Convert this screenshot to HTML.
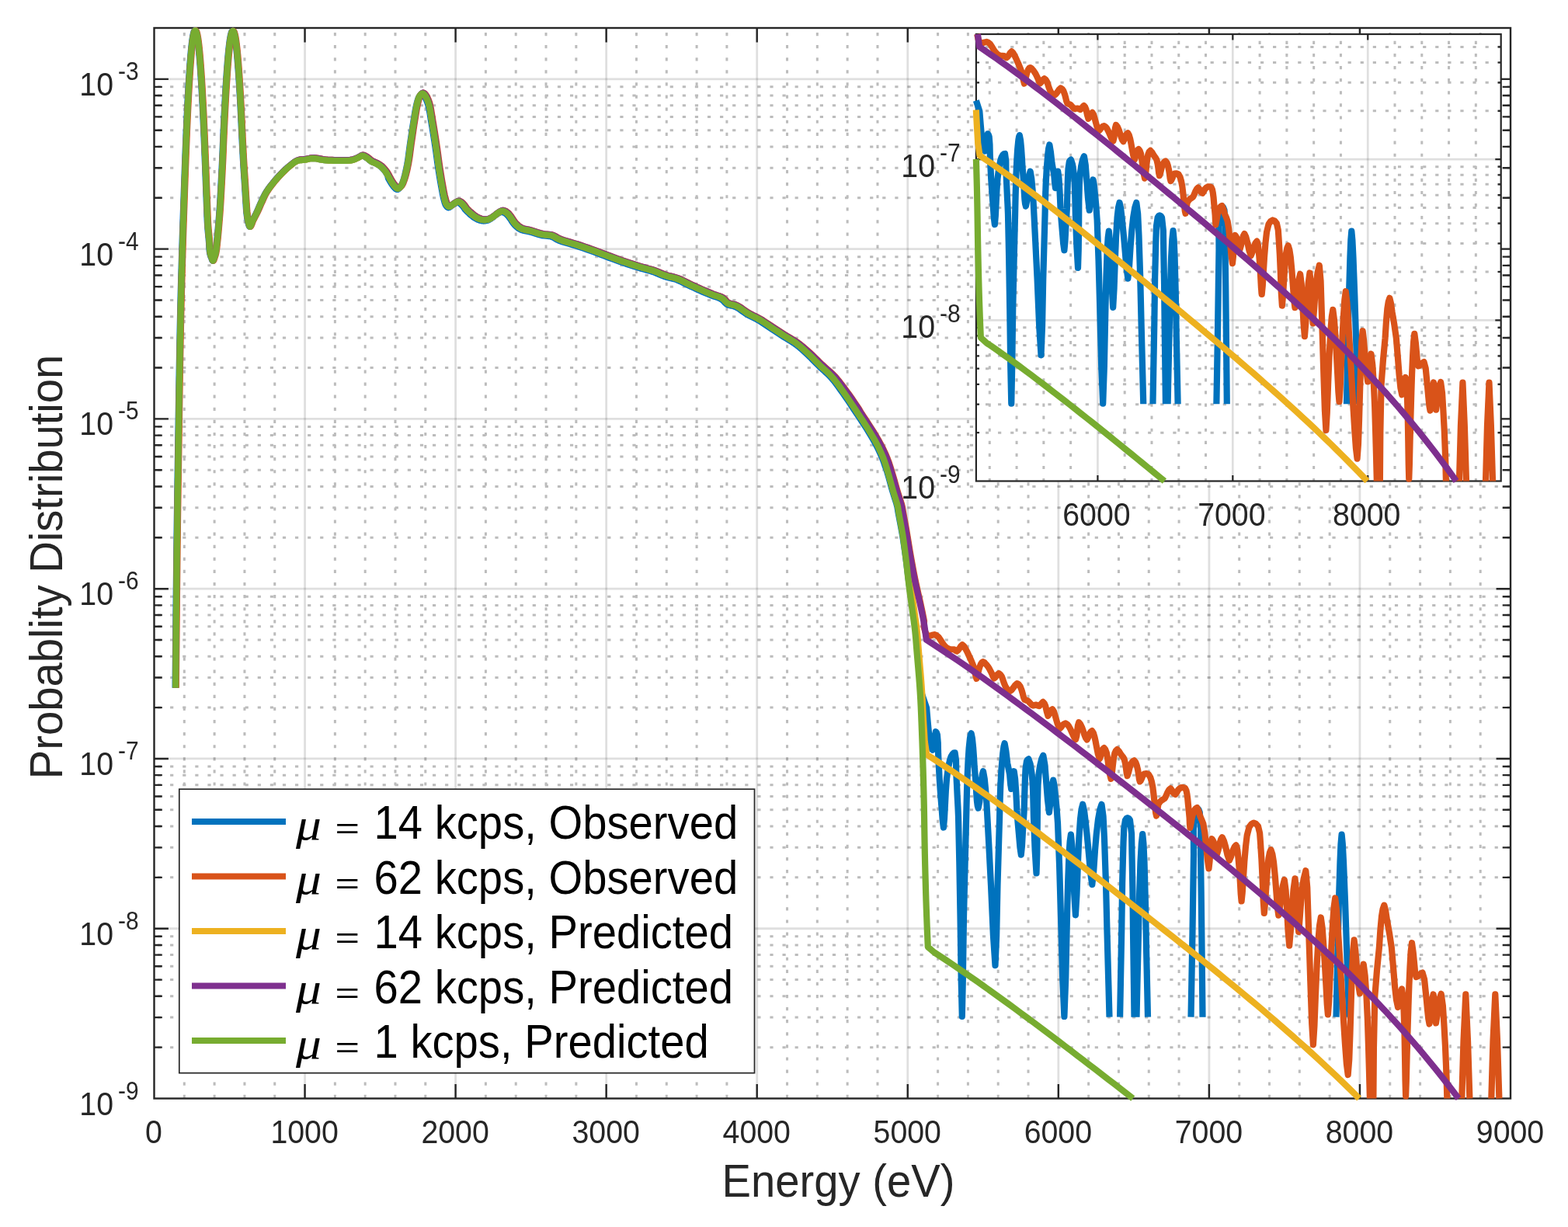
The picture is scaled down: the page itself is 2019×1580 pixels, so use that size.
<!DOCTYPE html>
<html lang="en"><head><meta charset="utf-8"><title>Probability Distribution vs Energy</title>
<style>html,body{margin:0;padding:0;background:#fff;}body{width:2019px;height:1580px;overflow:hidden;}svg{display:block;}text{font-family:'Liberation Sans', Arial, Helvetica, sans-serif;}</style>
</head><body>
<svg width="2019" height="1580" viewBox="0 0 2019 1580">
<rect width="2019" height="1580" fill="#ffffff"/>
<defs>
<clipPath id="cm"><rect x="197.3" y="34.8" width="1748.9" height="1380.9"/></clipPath>
<clipPath id="ci"><rect x="1255.9" y="43" width="677.8" height="577.5"/></clipPath>
</defs>
<g id="main-grid"><path d="M237.31 36V1414.5M276.12 36V1414.5M314.93 36V1414.5M353.74 36V1414.5M431.37 36V1414.5M470.18 36V1414.5M508.99 36V1414.5M547.8 36V1414.5M625.42 36V1414.5M664.23 36V1414.5M703.04 36V1414.5M741.86 36V1414.5M819.48 36V1414.5M858.29 36V1414.5M897.1 36V1414.5M935.91 36V1414.5M1013.53 36V1414.5M1052.34 36V1414.5M1091.16 36V1414.5M1129.97 36V1414.5M1207.59 36V1414.5M1246.4 36V1414.5M1285.21 36V1414.5M1324.02 36V1414.5M1401.64 36V1414.5M1440.46 36V1414.5M1479.27 36V1414.5M1518.08 36V1414.5M1595.7 36V1414.5M1634.51 36V1414.5M1673.32 36V1414.5M1712.13 36V1414.5M1789.76 36V1414.5M1828.57 36V1414.5M1867.38 36V1414.5M1906.19 36V1414.5" stroke="#bcbcbc" stroke-width="3" stroke-dasharray="4.2 11.89" stroke-dashoffset="-6" fill="none"/>
<path d="M198.5 1348.64H1945M198.5 1310.12H1945M198.5 1282.79H1945M198.5 1261.58H1945M198.5 1244.26H1945M198.5 1229.61H1945M198.5 1216.93H1945M198.5 1205.74H1945M198.5 1129.87H1945M198.5 1091.34H1945M198.5 1064.01H1945M198.5 1042.81H1945M198.5 1025.49H1945M198.5 1010.84H1945M198.5 998.15H1945M198.5 986.96H1945M198.5 911.1H1945M198.5 872.57H1945M198.5 845.24H1945M198.5 824.04H1945M198.5 806.71H1945M198.5 792.07H1945M198.5 779.38H1945M198.5 768.19H1945M198.5 692.32H1945M198.5 653.8H1945M198.5 626.46H1945M198.5 605.26H1945M198.5 587.94H1945M198.5 573.29H1945M198.5 560.61H1945M198.5 549.42H1945M198.5 473.55H1945M198.5 435.02H1945M198.5 407.69H1945M198.5 386.49H1945M198.5 369.17H1945M198.5 354.52H1945M198.5 341.83H1945M198.5 330.64H1945M198.5 254.77H1945M198.5 216.25H1945M198.5 188.92H1945M198.5 167.71H1945M198.5 150.39H1945M198.5 135.75H1945M198.5 123.06H1945M198.5 111.87H1945" stroke="#bcbcbc" stroke-width="3" stroke-dasharray="4.2 11.89" stroke-dashoffset="-4.5" fill="none"/>
<path d="M392.56 36V1414.5M586.61 36V1414.5M780.67 36V1414.5M974.72 36V1414.5M1168.78 36V1414.5M1362.83 36V1414.5M1556.89 36V1414.5M1750.94 36V1414.5" stroke="#262626" stroke-opacity="0.15" stroke-width="2.8" fill="none"/>
<path d="M198.5 1195.73H1945M198.5 976.95H1945M198.5 758.18H1945M198.5 539.4H1945M198.5 320.63H1945M198.5 101.86H1945" stroke="#262626" stroke-opacity="0.15" stroke-width="2.8" fill="none"/></g>
<g id="main-box"><path d="M392.56 1414.5v-18.4M392.56 36v18.4M586.61 1414.5v-18.4M586.61 36v18.4M780.67 1414.5v-18.4M780.67 36v18.4M974.72 1414.5v-18.4M974.72 36v18.4M1168.78 1414.5v-18.4M1168.78 36v18.4M1362.83 1414.5v-18.4M1362.83 36v18.4M1556.89 1414.5v-18.4M1556.89 36v18.4M1750.94 1414.5v-18.4M1750.94 36v18.4M198.5 1195.73h18.4M1945 1195.73h-18.4M198.5 976.95h18.4M1945 976.95h-18.4M198.5 758.18h18.4M1945 758.18h-18.4M198.5 539.4h18.4M1945 539.4h-18.4M198.5 320.63h18.4M1945 320.63h-18.4M198.5 101.86h18.4M1945 101.86h-18.4M198.5 1348.64h10.3M1945 1348.64h-10.3M198.5 1310.12h10.3M1945 1310.12h-10.3M198.5 1282.79h10.3M1945 1282.79h-10.3M198.5 1261.58h10.3M1945 1261.58h-10.3M198.5 1244.26h10.3M1945 1244.26h-10.3M198.5 1229.61h10.3M1945 1229.61h-10.3M198.5 1216.93h10.3M1945 1216.93h-10.3M198.5 1205.74h10.3M1945 1205.74h-10.3M198.5 1129.87h10.3M1945 1129.87h-10.3M198.5 1091.34h10.3M1945 1091.34h-10.3M198.5 1064.01h10.3M1945 1064.01h-10.3M198.5 1042.81h10.3M1945 1042.81h-10.3M198.5 1025.49h10.3M1945 1025.49h-10.3M198.5 1010.84h10.3M1945 1010.84h-10.3M198.5 998.15h10.3M1945 998.15h-10.3M198.5 986.96h10.3M1945 986.96h-10.3M198.5 911.1h10.3M1945 911.1h-10.3M198.5 872.57h10.3M1945 872.57h-10.3M198.5 845.24h10.3M1945 845.24h-10.3M198.5 824.04h10.3M1945 824.04h-10.3M198.5 806.71h10.3M1945 806.71h-10.3M198.5 792.07h10.3M1945 792.07h-10.3M198.5 779.38h10.3M1945 779.38h-10.3M198.5 768.19h10.3M1945 768.19h-10.3M198.5 692.32h10.3M1945 692.32h-10.3M198.5 653.8h10.3M1945 653.8h-10.3M198.5 626.46h10.3M1945 626.46h-10.3M198.5 605.26h10.3M1945 605.26h-10.3M198.5 587.94h10.3M1945 587.94h-10.3M198.5 573.29h10.3M1945 573.29h-10.3M198.5 560.61h10.3M1945 560.61h-10.3M198.5 549.42h10.3M1945 549.42h-10.3M198.5 473.55h10.3M1945 473.55h-10.3M198.5 435.02h10.3M1945 435.02h-10.3M198.5 407.69h10.3M1945 407.69h-10.3M198.5 386.49h10.3M1945 386.49h-10.3M198.5 369.17h10.3M1945 369.17h-10.3M198.5 354.52h10.3M1945 354.52h-10.3M198.5 341.83h10.3M1945 341.83h-10.3M198.5 330.64h10.3M1945 330.64h-10.3M198.5 254.77h10.3M1945 254.77h-10.3M198.5 216.25h10.3M1945 216.25h-10.3M198.5 188.92h10.3M1945 188.92h-10.3M198.5 167.71h10.3M1945 167.71h-10.3M198.5 150.39h10.3M1945 150.39h-10.3M198.5 135.75h10.3M1945 135.75h-10.3M198.5 123.06h10.3M1945 123.06h-10.3M198.5 111.87h10.3M1945 111.87h-10.3" stroke="#262626" stroke-width="2.4" fill="none"/>
<rect x="198.5" y="36" width="1746.5" height="1378.5" fill="none" stroke="#262626" stroke-width="2.4"/></g>
<g id="main-curves" fill="none" stroke-width="8.2" stroke-linejoin="round" stroke-linecap="butt">
<path d="M225.6 885.7L225.66 878.84L225.82 861.3L226.04 837.62L226.28 812.34L226.5 790L226.69 770.25L226.89 750.49L227.09 730.61L227.31 710.48L227.55 690L227.84 667.51L228.16 644.58L228.5 621.39L228.85 598.13L229.2 575L229.55 551.64L229.9 527.93L230.26 504.4L230.63 481.58L231 460L231.3 443.42L231.6 427.66L231.91 412.4L232.24 397.29L232.6 382L233.01 366.37L233.45 350.43L233.92 334.7L234.37 319.71L234.8 306L235.09 296.98L235.37 288.71L235.64 280.81L235.91 272.92L236.2 264.65L236.52 255.22L236.85 245.5L237.18 235.71L237.52 226.06L237.85 216.75L238.15 208.73L238.44 200.89L238.74 193.22L239.04 185.65L239.35 178.16L239.64 171.21L239.94 164.34L240.24 157.56L240.54 150.87L240.85 144.3L241.14 138.29L241.44 132.36L241.73 126.53L242.04 120.79L242.35 115.16L242.65 110.03L242.95 104.9L243.26 99.9L243.56 95.15L243.85 90.75L244.06 87.75L244.25 84.95L244.45 82.29L244.65 79.69L244.85 77.1L245.04 74.71L245.24 72.35L245.44 70.04L245.64 67.77L245.85 65.55L246.04 63.58L246.24 61.64L246.44 59.75L246.64 57.9L246.85 56.1L247.04 54.55L247.23 53.03L247.43 51.55L247.64 50.12L247.85 48.75L248.04 47.62L248.23 46.52L248.42 45.46L248.63 44.45L248.85 43.5L249.03 42.78L249.21 42.09L249.4 41.43L249.61 40.85L249.85 40.35L250.03 40.05L250.23 39.77L250.44 39.53L250.64 39.36L250.85 39.3L251.05 39.36L251.26 39.52L251.47 39.74L251.67 40.02L251.85 40.3L252.09 40.77L252.3 41.33L252.49 41.95L252.67 42.62L252.85 43.3L253.07 44.2L253.28 45.16L253.47 46.17L253.66 47.22L253.85 48.3L254.06 49.61L254.27 50.97L254.47 52.38L254.66 53.82L254.85 55.3L255.06 57.01L255.26 58.77L255.46 60.58L255.66 62.42L255.85 64.3L256.06 66.41L256.26 68.58L256.46 70.78L256.66 73.02L256.85 75.3L257.05 77.77L257.25 80.24L257.45 82.78L257.64 85.44L257.85 88.3L258.14 92.49L258.44 97.02L258.75 101.78L259.05 106.66L259.35 111.55L259.66 116.91L259.97 122.37L260.26 127.93L260.56 133.58L260.85 139.3L261.16 145.53L261.46 151.85L261.76 158.26L262.05 164.82L262.35 171.55L262.68 179.33L263.01 187.32L263.34 195.49L263.67 203.8L264 212.22L264.36 221.7L264.73 231.57L265.09 241.48L265.45 251.07L265.8 260L266.05 266.62L266.28 272.95L266.51 279.02L266.78 284.83L267.1 290.4L267.42 294.75L267.79 298.92L268.18 302.93L268.56 306.81L268.9 310.6L269.13 313.89L269.3 317.17L269.47 320.32L269.72 323.24L270.1 325.8L270.44 327.26L270.83 328.58L271.25 329.79L271.68 330.92L272.1 332L272.42 332.9L272.74 333.86L273.06 334.73L273.38 335.36L273.7 335.6L274.02 335.36L274.35 334.73L274.67 333.86L274.99 332.9L275.3 332L275.68 330.92L276.06 329.79L276.42 328.57L276.77 327.25L277.1 325.8L277.57 323.23L277.98 320.32L278.37 317.17L278.74 313.89L279.1 310.6L279.51 306.77L279.9 302.8L280.28 298.73L280.64 294.58L281 290.4L281.37 286L281.73 281.66L282.08 277.18L282.43 272.37L282.8 267L283.42 256.97L284.08 245.3L284.74 232.96L285.36 220.86L285.9 209.95L286.24 202.44L286.54 195.38L286.8 188.61L287.07 181.96L287.35 175.26L287.64 168.79L287.94 162.36L288.24 155.99L288.54 149.71L288.85 143.53L289.14 137.87L289.44 132.28L289.74 126.78L290.04 121.36L290.35 116.04L290.64 111.22L290.93 106.48L291.23 101.82L291.54 97.25L291.85 92.78L292.14 88.75L292.45 84.75L292.76 80.85L293.06 77.15L293.35 73.74L293.55 71.45L293.75 69.33L293.95 67.31L294.14 65.35L294.35 63.4L294.54 61.64L294.74 59.9L294.94 58.21L295.14 56.55L295.35 54.94L295.54 53.55L295.73 52.19L295.93 50.87L296.14 49.59L296.35 48.36L296.54 47.35L296.73 46.36L296.92 45.41L297.13 44.51L297.35 43.66L297.53 43.02L297.71 42.39L297.9 41.81L298.11 41.28L298.35 40.84L298.53 40.57L298.73 40.32L298.94 40.1L299.15 39.96L299.35 39.9L299.55 39.96L299.76 40.1L299.97 40.32L300.17 40.57L300.35 40.84L300.59 41.28L300.8 41.81L300.99 42.39L301.17 43.02L301.35 43.66L301.57 44.51L301.78 45.41L301.97 46.36L302.16 47.35L302.35 48.36L302.56 49.59L302.77 50.87L302.97 52.19L303.16 53.55L303.35 54.94L303.56 56.55L303.76 58.21L303.96 59.9L304.16 61.64L304.35 63.4L304.56 65.35L304.75 67.31L304.95 69.33L305.15 71.45L305.35 73.74L305.64 77.15L305.94 80.85L306.25 84.75L306.56 88.75L306.85 92.78L307.16 97.25L307.47 101.82L307.77 106.48L308.06 111.22L308.35 116.04L308.66 121.36L308.96 126.78L309.26 132.28L309.56 137.87L309.85 143.53L310.15 149.7L310.44 155.94L310.73 162.28L311.03 168.72L311.35 175.26L311.72 182.63L312.11 190.3L312.51 198L312.91 205.42L313.3 212.3L313.6 217.18L313.9 221.73L314.2 226.11L314.5 230.48L314.8 235L315.11 240.02L315.43 245.21L315.74 250.39L316.05 255.38L316.35 260L316.57 263.32L316.76 266.48L316.97 269.49L317.2 272.39L317.5 275.2L317.79 277.54L318.11 279.83L318.46 282.02L318.85 284.1L319.3 286L319.66 287.47L320.05 289.01L320.47 290.39L320.91 291.4L321.4 291.8L322.03 291.26L322.72 289.84L323.46 287.91L324.22 285.84L325 284L325.85 282.31L326.72 280.63L327.62 278.92L328.55 277.13L329.5 275.2L330.79 272.41L332.14 269.35L333.53 266.17L334.92 263.01L336.3 260L337.47 257.44L338.58 254.97L339.72 252.54L340.99 250.07L342.5 247.5L344.85 243.97L347.56 240.26L350.5 236.5L353.56 232.8L356.6 229.3L359.57 226.06L362.65 222.86L365.77 219.8L368.85 216.95L371.8 214.4L373.99 212.58L376.11 210.86L378.2 209.32L380.28 208.01L382.4 207L384.2 206.47L386 206.21L387.8 206.1L389.63 206L391.5 205.8L393.56 205.4L395.63 204.92L397.74 204.44L399.93 204.07L402.2 203.9L405.07 204.07L408.09 204.54L411.19 205.16L414.32 205.77L417.4 206.2L420.38 206.44L423.32 206.61L426.29 206.72L429.33 206.78L432.5 206.8L436.6 206.84L441.04 206.87L445.51 206.81L449.66 206.57L453.17 206.08L454.98 205.6L456.58 205.01L458.03 204.36L459.41 203.68L460.77 203.04L461.89 202.45L462.95 201.77L463.98 201.13L465.01 200.65L466.08 200.46L467.28 200.64L468.52 201.13L469.77 201.82L470.99 202.59L472.16 203.35L473.24 204.12L474.23 204.96L475.22 205.85L476.28 206.74L477.48 207.6L479.38 208.64L481.56 209.62L483.85 210.61L486.09 211.68L488.11 212.92L489.8 214.23L491.38 215.63L492.86 217.14L494.29 218.76L495.71 220.51L497.34 222.9L498.92 225.6L500.04 229.7L501.5 232.38L502.9 234.73L503.86 236.21L504.76 237.6L505.65 238.89L506.54 240.06L507.46 241.11L508.2 241.89L508.96 242.65L509.72 243.32L510.49 243.79L511.26 243.99L512.02 243.88L512.81 243.53L513.59 242.98L514.35 242.31L515.05 241.56L515.96 240.33L516.78 238.84L517.54 237.13L518.27 235.24L519 233.21L520.14 229.63L521.24 225.51L522.29 221.05L523.27 216.46L524.17 211.94L524.99 207.24L525.69 202.48L526.32 197.64L526.96 192.7L527.66 187.63L528.53 181.7L529.43 175.51L530.35 169.25L531.28 163.1L532.22 157.25L533.01 152.33L533.8 147.44L534.6 142.73L535.43 138.35L536.32 134.47L536.92 132.11L537.51 129.9L538.14 127.87L538.84 126.09L539.66 124.59L540.3 123.71L540.99 122.88L541.71 122.2L542.44 121.73L543.16 121.56L543.86 121.73L544.58 122.2L545.29 122.89L545.98 123.72L546.65 124.59L547.62 126.09L548.55 127.87L549.43 129.88L550.27 132.1L551.06 134.47L552.07 138.34L552.95 142.71L553.73 147.42L554.5 152.32L555.31 157.25L556.29 163.05L557.28 169.09L558.27 175.27L559.24 181.48L560.17 187.63L561.06 193.78L561.91 200L562.74 206.18L563.57 212.22L564.42 218.02L565.18 222.86L565.94 227.59L566.7 232.18L567.47 236.6L568.22 240.8L568.82 244.11L569.39 247.31L569.98 250.38L570.59 253.28L571.26 255.99L571.79 258.02L572.32 259.99L572.89 261.83L573.53 263.46L574.3 264.8L574.88 265.57L575.51 266.26L576.18 266.83L576.89 267.22L577.64 267.39L578.68 267.12L579.81 266.39L580.99 265.42L582.2 264.41L583.41 263.59L584.61 262.88L585.84 262.12L587.08 261.44L588.31 260.98L589.49 260.85L590.6 261.13L591.69 261.71L592.76 262.5L593.8 263.41L594.8 264.35L595.89 265.52L596.87 266.85L597.85 268.29L598.9 269.75L600.12 271.18L602.01 273.07L604.17 275.06L606.45 277.03L608.7 278.83L610.75 280.3L612.03 281.11L613.25 281.8L614.43 282.38L615.61 282.89L616.83 283.34L618.03 283.72L619.24 284.06L620.46 284.32L621.69 284.49L622.91 284.55L624.13 284.5L625.36 284.35L626.58 284.1L627.79 283.76L628.98 283.34L630.23 282.75L631.46 282.03L632.66 281.23L633.86 280.38L635.06 279.54L636.29 278.63L637.53 277.65L638.75 276.67L639.95 275.75L641.14 274.98L642.07 274.43L642.98 273.91L643.88 273.47L644.78 273.15L645.69 273.01L646.61 273.06L647.54 273.27L648.46 273.6L649.37 274.03L650.25 274.52L651.2 275.16L652.09 275.91L652.98 276.77L653.87 277.72L654.81 278.78L656.23 280.63L657.7 282.84L659.21 285.18L660.78 287.45L662.4 289.41L663.81 290.86L665.23 292.2L666.7 293.42L668.28 294.52L670 295.49L672.17 296.34L674.53 296.95L677.02 297.44L679.58 297.92L682.15 298.53L685.11 299.41L688.18 300.41L691.29 301.42L694.37 302.35L697.34 303.08L699.86 303.47L702.35 303.67L704.78 303.83L707.17 304.09L709.49 304.6L711.64 305.43L713.64 306.48L715.63 307.64L717.75 308.82L720.13 309.92L723.95 311.29L728.22 312.59L732.76 313.88L737.38 315.19L741.89 316.57L746.49 318.09L751.2 319.7L755.88 321.32L760.41 322.93L764.67 324.47L767.86 325.65L770.83 326.78L773.71 327.9L776.67 329.04L779.86 330.24L784.12 331.81L788.63 333.47L793.3 335.16L798.01 336.84L802.65 338.44L807.27 339.99L811.97 341.53L816.64 343.02L821.16 344.43L825.43 345.73L828.67 346.65L831.74 347.46L834.71 348.24L837.65 349.05L840.63 349.99L843.68 351.12L846.71 352.38L849.73 353.69L852.76 354.94L855.82 356.06L858.84 356.96L861.89 357.7L864.95 358.41L867.99 359.2L871.01 360.17L874.08 361.41L877.12 362.82L880.14 364.32L883.17 365.84L886.2 367.3L889.23 368.72L892.27 370.14L895.3 371.54L898.34 372.93L901.39 374.29L904.44 375.63L907.53 376.95L910.61 378.24L913.64 379.49L916.58 380.67L919.15 381.6L921.71 382.41L924.2 383.22L926.56 384.12L928.73 385.23L930.4 386.49L931.86 387.96L933.25 389.48L934.69 390.9L936.33 392.07L938.26 392.87L940.33 393.38L942.49 393.79L944.72 394.3L946.96 395.1L949.88 396.68L952.89 398.65L955.96 400.83L959.06 403.01L962.15 404.98L965.16 406.63L968.18 408.15L971.22 409.63L974.27 411.18L977.34 412.88L980.72 414.96L984.13 417.2L987.55 419.53L990.95 421.85L994.29 424.09L997.38 426.11L1000.42 428.1L1003.44 430.06L1006.45 432.01L1009.48 433.96L1012.53 435.85L1015.59 437.67L1018.65 439.51L1021.69 441.44L1024.67 443.53L1027.78 445.95L1030.84 448.52L1033.86 451.2L1036.87 453.96L1039.86 456.75L1042.93 459.69L1045.97 462.74L1048.99 465.83L1052.01 468.91L1055.05 471.94L1058.1 474.8L1061.18 477.57L1064.25 480.36L1067.28 483.25L1070.24 486.37L1073.39 490.07L1076.46 493.99L1079.47 498.07L1082.46 502.24L1085.43 506.42L1088.51 510.8L1091.56 515.28L1094.59 519.81L1097.61 524.36L1100.63 528.9L1103.68 533.46L1106.75 538.04L1109.8 542.63L1112.78 547.18L1115.63 551.68L1118.18 555.78L1120.66 559.82L1123.07 563.83L1125.38 567.86L1127.58 571.93L1129.64 575.94L1131.61 579.97L1133.48 584.02L1135.25 588.09L1136.9 592.19L1138.36 596.2L1139.68 600.25L1140.91 603.01L1142.1 607.07L1143.29 611.14L1144.45 615.18L1145.57 619.24L1146.66 623.29L1147.77 627.34L1148.92 631.39L1150.2 635.59L1151.59 639.91L1152.96 644.17L1154.18 648.15L1155.12 651.65L1155.52 653.45L1155.79 654.99L1156.01 656.45L1156.25 658.05L1156.58 660L1157.48 664.86L1158.62 670.78L1159.87 677.31L1161.11 683.99L1162.23 690.38L1163.19 696.45L1164.1 702.52L1164.96 708.6L1165.8 714.68L1166.62 720.76L1167.41 726.83L1168.16 732.91L1168.9 738.99L1169.65 745.07L1170.44 751.14L1171.29 757.22L1172.17 763.29L1173.07 769.37L1173.97 775.44L1174.86 781.52L1175.77 787.61L1176.7 793.71L1177.62 799.8L1178.48 805.87L1179.26 811.9L1179.89 817.56L1180.43 823.06L1180.93 828.59L1181.43 834.38L1181.98 840.63L1182.83 849.86L1183.75 859.9L1184.68 870.39L1185.54 880.97L1186.28 891.27L1193.1 911.5L1193.69 918.52L1194.7 930L1195.46 938.22L1196.3 946.2L1197.16 954.18L1198.4 961L1199.59 964.16L1200.8 965.7L1202.02 961.7L1203 955L1203.86 947.13L1204.9 942.2L1205.91 943.43L1206.9 946.2L1207.79 956.82L1208.1 970.5L1208.82 986.27L1209.7 1002.9L1211.02 1021.73L1212.5 1040L1213.72 1056.24L1214.9 1065.5L1215.99 1054.11L1217 1035L1217.83 1018.71L1219 1002.9L1220.77 989.64L1223.1 978.6L1224.65 974.12L1226.5 971L1228.09 969.61L1229.6 969.3L1231.02 979.12L1231.2 994.8L1232.03 1011.04L1232.8 1027.2L1233.42 1038.42L1234 1051.6L1235.28 1109.47L1236.5 1180L1237.67 1260.61L1238.8 1309L1239.84 1260.61L1241 1180L1242.67 1110.47L1244.2 1051.6L1244.6 1034.23L1245 1019.1L1245.67 998.67L1246.6 978.6L1247.66 962.83L1249 950.3L1249.79 946.19L1250.6 944.2L1251.93 950.88L1253.1 962.4L1253.96 974.33L1254.7 986.7L1255.72 998.99L1256.7 1011L1257.24 1021.76L1257.9 1031.3L1258.68 1037.35L1259.6 1040.6L1261.27 1032.35L1262.8 1019.1L1263.4 1010.6L1264 1002.9L1264.94 996.67L1266 993.2L1267.75 1002.97L1269.3 1019.1L1270.16 1030.33L1270.9 1043.5L1273.28 1087.56L1276 1140L1278.89 1204.29L1281.5 1243.2L1283.17 1203.99L1284.5 1140L1285.87 1093.25L1287.1 1051.6L1287.62 1030.32L1288.3 1011L1289.55 989.37L1291.2 970.5L1292.36 961.66L1293.6 957.1L1295.36 967.16L1297.2 982.7L1298.71 990.14L1300.1 997.3L1301.11 1008.77L1302.1 1015.9L1303.88 1004.55L1305.7 993.2L1307.12 1002.97L1308.2 1019.1L1308.81 1031.15L1309.4 1043.5L1310.58 1059.21L1312 1075L1313.42 1091.17L1314.8 1100.6L1315.98 1088.98L1317 1070L1317.91 1056.98L1318.7 1043.5L1319.25 1023L1319.9 1002.9L1320.54 989.73L1322 980.2L1323.17 978.15L1324.4 977.4L1326.66 983.88L1328.4 994.8L1329.51 1006.46L1330.1 1019.1L1330.5 1034.25L1330.9 1051.6L1332.66 1095.35L1334.5 1124.5L1335.31 1099.76L1335.8 1060L1335.97 1034.01L1336.5 1011L1337.43 997.88L1339 986.7L1341.11 977.65L1343.3 972.7L1345.37 984.63L1347 1005L1349.01 1030.38L1350.9 1046.1L1352.16 1035.88L1353.5 1020L1354.83 1010.11L1356.2 1004.6L1357.65 1011.91L1359 1025L1360.58 1040.6L1362 1060L1364.11 1115.24L1366 1180L1368.23 1260.34L1370.4 1309L1372.28 1258.71L1374 1180L1375.13 1136.01L1376.5 1100L1377.67 1083.23L1378.9 1074.6L1380.22 1087.16L1381.5 1110L1383.23 1151.3L1384.9 1178.3L1386.45 1152.22L1388 1110L1389.3 1080.35L1391 1055L1392.52 1042.37L1394.2 1035.8L1396.12 1044.49L1398 1060L1400.04 1079.4L1402 1100L1404.18 1124.41L1406.3 1139L1408.17 1122.36L1410 1095L1411.79 1073.95L1414 1055L1416.27 1042.51L1418.5 1035.8L1420.56 1051.07L1422 1080L1423.95 1136.66L1425.5 1200L1427.4 1268.87L1428.5 1309.7M1442.1 1309.7L1442.88 1268.72L1444.2 1200L1445.12 1137.9L1446.5 1085L1447.21 1067.34L1449 1056L1450.37 1053.99L1451.9 1053.2L1453.51 1053.93L1455 1056L1457.05 1073.55L1457.5 1100L1458.42 1147.18L1459 1200L1459.94 1268.24L1460.5 1309.7M1463.5 1309.7L1464.42 1267.88L1466 1200L1467.1 1151.91L1468.5 1110L1469.82 1086.48L1471.2 1074L1472.41 1086.27L1473.5 1110L1474.89 1161.95L1476 1220L1477.27 1276.63L1478 1309.7M1533.5 1309.7L1534.28 1268.24L1535.5 1200L1536.27 1147.8L1537 1100L1536.82 1068.43L1538.2 1046L1539.76 1042.14L1541.5 1040.5L1543.24 1042.14L1544.8 1046L1546.19 1068.43L1546 1100L1546.68 1147.8L1547.3 1200L1548.06 1268.24L1548.5 1309.7M1720.5 1309.7L1721.42 1267.88L1723 1200L1724.17 1151.87L1725.5 1110L1726.51 1086.8L1727.6 1074.5L1728.79 1086.59L1730 1110L1732.06 1161.91L1734 1220L1735.91 1276.63L1737 1309.7" stroke="#0072BD"/>
<path d="M226.8 885.7L226.86 878.84L227.02 861.3L227.24 837.62L227.48 812.34L227.7 790L227.89 770.25L228.09 750.49L228.29 730.61L228.51 710.48L228.75 690L229.04 667.51L229.36 644.58L229.7 621.39L230.05 598.13L230.4 575L230.75 551.64L231.1 527.93L231.46 504.4L231.83 481.58L232.2 460L232.5 443.42L232.8 427.66L233.11 412.4L233.44 397.29L233.8 382L234.21 366.37L234.65 350.43L235.12 334.7L235.57 319.71L236 306L236.29 296.98L236.57 288.71L236.84 280.81L237.11 272.92L237.4 264.65L237.72 255.22L238.05 245.5L238.38 235.71L238.72 226.06L239.05 216.75L239.35 208.73L239.64 200.89L239.94 193.22L240.24 185.65L240.55 178.16L240.84 171.21L241.14 164.34L241.44 157.56L241.74 150.87L242.05 144.3L242.34 138.29L242.64 132.36L242.93 126.53L243.24 120.79L243.55 115.16L243.85 110.03L244.15 104.9L244.46 99.9L244.76 95.15L245.05 90.75L245.26 87.75L245.45 84.95L245.65 82.29L245.85 79.69L246.05 77.1L246.24 74.71L246.44 72.35L246.64 70.04L246.84 67.77L247.05 65.55L247.24 63.58L247.44 61.64L247.64 59.75L247.84 57.9L248.05 56.1L248.24 54.55L248.43 53.03L248.63 51.55L248.84 50.12L249.05 48.75L249.24 47.62L249.43 46.52L249.62 45.46L249.83 44.45L250.05 43.5L250.23 42.78L250.41 42.09L250.6 41.43L250.81 40.85L251.05 40.35L251.23 40.05L251.43 39.77L251.64 39.53L251.84 39.36L252.05 39.3L252.25 39.36L252.46 39.52L252.67 39.74L252.87 40.02L253.05 40.3L253.29 40.77L253.5 41.33L253.69 41.95L253.87 42.62L254.05 43.3L254.27 44.2L254.48 45.16L254.67 46.17L254.86 47.22L255.05 48.3L255.26 49.61L255.47 50.97L255.67 52.38L255.86 53.82L256.05 55.3L256.26 57.01L256.46 58.77L256.66 60.58L256.86 62.42L257.05 64.3L257.26 66.41L257.46 68.58L257.66 70.78L257.86 73.02L258.05 75.3L258.25 77.77L258.45 80.24L258.65 82.78L258.84 85.44L259.05 88.3L259.34 92.49L259.64 97.02L259.95 101.78L260.25 106.66L260.55 111.55L260.86 116.91L261.17 122.37L261.46 127.93L261.76 133.58L262.05 139.3L262.36 145.53L262.66 151.85L262.96 158.26L263.25 164.82L263.55 171.55L263.88 179.33L264.21 187.32L264.54 195.49L264.87 203.8L265.2 212.22L265.56 221.7L265.93 231.57L266.29 241.48L266.65 251.07L267 260L267.25 266.62L267.48 272.95L267.71 279.02L267.98 284.83L268.3 290.4L268.62 294.75L268.99 298.92L269.38 302.93L269.76 306.81L270.1 310.6L270.33 313.89L270.5 317.17L270.67 320.32L270.92 323.24L271.3 325.8L271.64 327.26L272.03 328.58L272.45 329.79L272.88 330.92L273.3 332L273.62 332.9L273.94 333.86L274.26 334.73L274.58 335.36L274.9 335.6L275.22 335.36L275.55 334.73L275.87 333.86L276.19 332.9L276.5 332L276.88 330.92L277.26 329.79L277.62 328.57L277.97 327.25L278.3 325.8L278.77 323.23L279.18 320.32L279.57 317.17L279.94 313.89L280.3 310.6L280.71 306.77L281.1 302.8L281.48 298.73L281.84 294.58L282.2 290.4L282.57 286L282.93 281.66L283.28 277.18L283.63 272.37L284 267L284.62 256.97L285.28 245.3L285.94 232.96L286.56 220.86L287.1 209.95L287.44 202.44L287.74 195.38L288 188.61L288.27 181.96L288.55 175.26L288.84 168.79L289.14 162.36L289.44 155.99L289.74 149.71L290.05 143.53L290.34 137.87L290.64 132.28L290.94 126.78L291.24 121.36L291.55 116.04L291.84 111.22L292.13 106.48L292.43 101.82L292.74 97.25L293.05 92.78L293.34 88.75L293.65 84.75L293.96 80.85L294.26 77.15L294.55 73.74L294.75 71.45L294.95 69.33L295.15 67.31L295.34 65.35L295.55 63.4L295.74 61.64L295.94 59.9L296.14 58.21L296.34 56.55L296.55 54.94L296.74 53.55L296.93 52.19L297.13 50.87L297.34 49.59L297.55 48.36L297.74 47.35L297.93 46.36L298.12 45.41L298.33 44.51L298.55 43.66L298.73 43.02L298.91 42.39L299.1 41.81L299.31 41.28L299.55 40.84L299.73 40.57L299.93 40.32L300.14 40.1L300.35 39.96L300.55 39.9L300.75 39.96L300.96 40.1L301.17 40.32L301.37 40.57L301.55 40.84L301.79 41.28L302 41.81L302.19 42.39L302.37 43.02L302.55 43.66L302.77 44.51L302.98 45.41L303.17 46.36L303.36 47.35L303.55 48.36L303.76 49.59L303.97 50.87L304.17 52.19L304.36 53.55L304.55 54.94L304.76 56.55L304.96 58.21L305.16 59.9L305.36 61.64L305.55 63.4L305.76 65.35L305.95 67.31L306.15 69.33L306.35 71.45L306.55 73.74L306.84 77.15L307.14 80.85L307.45 84.75L307.76 88.75L308.05 92.78L308.36 97.25L308.67 101.82L308.97 106.48L309.26 111.22L309.55 116.04L309.86 121.36L310.16 126.78L310.46 132.28L310.76 137.87L311.05 143.53L311.35 149.7L311.64 155.94L311.93 162.28L312.23 168.72L312.55 175.26L312.92 182.63L313.31 190.3L313.71 198L314.11 205.42L314.5 212.3L314.8 217.18L315.1 221.73L315.4 226.11L315.7 230.48L316 235L316.31 240.02L316.63 245.21L316.94 250.39L317.25 255.38L317.55 260L317.77 263.32L317.96 266.48L318.17 269.49L318.4 272.39L318.7 275.2L318.99 277.54L319.31 279.83L319.66 282.02L320.05 284.1L320.5 286L320.86 287.47L321.25 289.01L321.67 290.39L322.11 291.4L322.6 291.8L323.23 291.26L323.92 289.84L324.66 287.91L325.42 285.84L326.2 284L327.05 282.31L327.92 280.63L328.82 278.92L329.75 277.13L330.7 275.2L332.49 271.61L333.84 268.55L335.23 265.37L336.62 262.21L338 259.2L339.17 256.64L340.28 254.17L341.42 251.74L342.69 249.27L344.2 246.7L346.55 243.17L349.26 239.46L352.2 235.7L355.26 232L358.3 228.5L361.27 225.26L364.35 222.06L367.47 219L370.55 216.15L373.5 213.6L375.69 211.78L377.81 210.06L379.9 208.52L381.98 207.21L384.1 206.2L385.9 205.67L387.7 205.41L389.5 205.3L391.33 205.2L393.2 205L395.26 204.6L397.33 204.12L399.44 203.64L401.63 203.27L403.9 203.1L406.77 203.27L409.79 203.74L412.89 204.36L416.02 204.97L419.1 205.4L422.08 205.64L425.02 205.81L427.99 205.92L431.03 205.98L434.2 206L438.3 206.04L442.74 206.07L447.21 206.01L451.36 205.77L454.87 205.28L456.68 204.8L458.28 204.21L459.73 203.56L461.11 202.88L462.47 202.24L463.59 201.65L464.65 200.97L465.68 200.33L466.71 199.85L467.78 199.66L468.98 199.84L470.22 200.33L471.47 201.02L472.69 201.79L473.86 202.55L474.94 203.32L475.93 204.16L476.92 205.05L477.98 205.94L479.18 206.8L481.08 207.84L483.26 208.82L485.55 209.81L487.79 210.88L489.81 212.12L491.5 213.43L493.08 214.83L494.56 216.34L495.99 217.96L497.41 219.71L499.04 222.1L500.62 224.8L502.14 227.6L503.6 230.28L505 232.63L505.96 234.11L506.86 235.5L507.75 236.79L508.64 237.96L509.56 239.01L510.3 239.79L511.06 240.55L511.82 241.22L512.59 241.69L513.36 241.89L514.12 241.78L514.91 241.43L515.69 240.88L516.45 240.21L517.15 239.46L518.06 238.23L518.88 236.74L519.64 235.03L520.37 233.14L521.1 231.11L522.24 227.53L523.34 223.41L524.39 218.95L525.37 214.36L526.27 209.84L527.09 205.14L527.79 200.38L528.42 195.54L529.06 190.6L529.76 185.53L530.63 179.6L531.53 173.41L532.45 167.15L533.38 161L534.32 155.15L535.11 150.23L535.9 145.34L536.7 140.63L537.53 136.25L538.42 132.37L539.02 130.01L539.61 127.8L540.24 125.77L540.94 123.99L541.76 122.49L542.4 121.61L543.09 120.78L543.81 120.1L544.54 119.63L545.26 119.46L545.96 119.63L546.68 120.1L547.39 120.79L548.08 121.62L548.75 122.49L549.72 123.99L550.65 125.77L551.53 127.78L552.37 130L553.16 132.37L554.17 136.24L555.05 140.61L555.83 145.32L556.6 150.22L557.41 155.15L558.39 160.95L559.38 166.99L560.37 173.17L561.34 179.38L562.27 185.53L563.16 191.68L564.01 197.9L564.84 204.08L565.67 210.12L566.52 215.92L567.28 220.76L568.04 225.49L568.8 230.08L569.57 234.5L570.32 238.7L570.92 242.01L571.49 245.21L572.08 248.28L572.69 251.18L573.36 253.89L573.89 255.92L574.42 257.89L574.99 259.73L575.63 261.36L576.4 262.7L576.98 263.47L577.61 264.16L578.28 264.73L578.99 265.12L579.74 265.29L580.78 265.02L581.91 264.29L583.09 263.32L584.3 262.31L585.51 261.49L586.71 260.78L587.94 260.02L589.18 259.34L590.41 258.88L591.59 258.75L592.7 259.03L593.79 259.61L594.86 260.4L595.9 261.31L596.9 262.25L597.99 263.42L598.97 264.75L599.95 266.19L601 267.65L602.22 269.08L604.11 270.97L606.27 272.96L608.55 274.93L610.8 276.73L612.85 278.2L614.13 279.01L615.35 279.7L616.53 280.28L617.71 280.79L618.93 281.24L620.13 281.62L621.34 281.96L622.56 282.22L623.79 282.39L625.01 282.45L626.23 282.4L627.46 282.25L628.68 282L629.89 281.66L631.08 281.24L632.33 280.65L633.56 279.93L634.76 279.13L635.96 278.28L637.16 277.44L638.39 276.53L639.63 275.55L640.85 274.57L642.05 273.65L643.24 272.88L644.17 272.33L645.08 271.81L645.98 271.37L646.88 271.05L647.79 270.91L648.71 270.96L649.64 271.17L650.56 271.5L651.47 271.93L652.35 272.42L653.3 273.06L654.19 273.81L655.08 274.67L655.97 275.62L656.91 276.68L658.33 278.53L659.8 280.74L661.31 283.08L662.88 285.35L664.5 287.31L665.91 288.76L667.33 290.1L668.8 291.32L670.38 292.42L672.1 293.39L674.27 294.24L676.63 294.85L679.12 295.34L681.68 295.82L684.25 296.43L687.21 297.31L690.28 298.31L693.39 299.32L696.47 300.25L699.44 300.98L701.96 301.37L704.45 301.57L706.88 301.73L709.27 301.99L711.59 302.5L713.74 303.33L715.74 304.38L717.73 305.54L719.85 306.72L722.23 307.82L726.05 309.19L730.32 310.49L734.86 311.78L739.48 313.09L743.99 314.47L748.59 315.99L753.3 317.6L757.98 319.22L762.51 320.83L766.77 322.37L769.96 323.55L772.93 324.68L775.81 325.8L778.77 326.94L781.96 328.14L786.22 329.71L790.73 331.37L795.4 333.06L800.11 334.74L804.75 336.34L809.37 337.89L814.07 339.43L818.74 340.92L823.26 342.33L827.53 343.63L830.77 344.55L833.84 345.36L836.81 346.14L839.75 346.95L842.73 347.89L845.78 349.02L848.81 350.28L851.83 351.59L854.86 352.84L857.92 353.96L860.94 354.86L863.99 355.6L867.05 356.31L870.09 357.1L873.11 358.07L876.18 359.31L879.22 360.72L882.24 362.22L885.27 363.74L888.3 365.2L891.33 366.62L894.37 368.04L897.4 369.44L900.44 370.83L903.59 372.19L906.64 373.53L909.73 374.85L912.81 376.14L915.84 377.39L918.78 378.57L921.35 379.5L923.91 380.31L926.4 381.12L928.76 382.02L930.93 383.13L932.6 384.39L934.06 385.86L935.45 387.38L936.89 388.8L938.53 389.97L940.46 390.77L942.53 391.28L944.69 391.69L946.92 392.2L949.16 393L952.08 394.58L955.09 396.55L958.16 398.73L961.26 400.91L964.36 402.88L967.37 404.53L970.41 406.05L973.46 407.53L976.53 409.08L979.62 410.78L983.02 412.86L986.47 415.1L989.94 417.43L993.38 419.75L996.77 421.99L999.9 424.01L1002.99 426L1006.06 427.96L1009.13 429.91L1012.22 431.86L1015.32 433.75L1018.44 435.57L1021.56 437.41L1024.66 439.34L1027.72 441.43L1030.9 443.85L1034.06 446.42L1037.18 449.1L1040.29 451.86L1043.39 454.65L1046.57 457.59L1049.73 460.64L1052.87 463.73L1056.01 466.81L1059.17 469.84L1062.33 472.7L1065.51 475.47L1068.69 478.26L1071.83 481.15L1074.91 484.27L1078.18 487.97L1081.38 491.89L1084.52 495.97L1087.62 500.14L1090.71 504.32L1093.89 508.7L1097.02 513.18L1100.12 517.71L1103.18 522.26L1106.22 526.8L1109.28 532.16L1112.36 536.74L1115.42 541.33L1118.41 545.88L1121.29 550.38L1123.87 554.48L1126.38 558.52L1128.81 562.53L1131.16 566.56L1133.4 570.63L1135.49 574.64L1137.5 578.67L1139.42 582.72L1141.24 586.79L1142.93 590.89L1144.44 594.9L1145.81 598.95L1147.09 603.01L1148.32 607.07L1149.55 611.14L1150.75 615.18L1151.91 619.24L1153.04 623.29L1154.17 627.34L1155.35 631.39L1156.65 635.59L1158.06 639.91L1159.44 644.17L1160.66 648.15L1161.61 651.65L1162.01 653.45L1162.28 654.99L1162.5 656.45L1162.74 658.05L1163.06 660L1163.95 664.86L1165.06 670.78L1166.26 677.31L1167.44 683.99L1168.52 690.38L1169.51 696.45L1170.49 702.52L1171.49 708.6L1172.53 714.68L1173.61 720.76L1174.72 726.83L1175.85 732.91L1177 738.99L1178.21 745.07L1179.48 751.14L1180.83 757.22L1182.21 763.29L1183.6 769.37L1184.97 775.44L1186.3 781.52L1187.6 787.61L1188.85 793.71L1190.01 799.8L1189.56 806.21L1190.12 809.08L1191.35 813.5L1192.57 816.08L1194.18 817.96L1196.1 818.54L1198.23 818.53L1200.64 817.72L1203.1 817.15L1205.78 818.15L1208.36 820.15L1211.27 824.34L1214.04 828.9L1216.4 831.84L1218.9 834.17L1221.28 835.44L1223.76 836.19L1226.26 836.23L1228.62 836.35L1230.32 837.68L1231.86 838.62L1233.49 837.43L1235.11 835.38L1237.12 832.27L1239.16 830.28L1241.22 832.09L1243.21 835.38L1245.29 839.26L1247.26 843.48L1249.34 847.9L1251.31 852.4L1253.03 856.74L1254.55 861.31L1256.02 869.01L1257.39 873.87L1258.77 869.67L1260.23 862.93L1261.52 858.49L1263.06 854.83L1264.4 853.03L1265.9 852.16L1267.91 853.37L1269.95 855.64L1272.07 858.32L1274 861.31L1275.69 864.54L1277.24 867.8L1278.63 871.31L1280.08 873.47L1281.45 872.28L1282.92 870.23L1284.51 868.28L1286.16 867.15L1288.05 868.48L1289.81 871.04L1291.28 874.88L1292.64 879.14L1294.49 883.54L1296.69 887.24L1298.68 889.1L1300.75 889.84L1302.78 888.24L1304.8 885.62L1307.22 882.26L1309.66 880.11L1311.79 881.37L1313.71 884L1315.52 888.63L1316.95 893.73L1317.98 897.83L1319.38 901.02L1321.3 901.78L1323.44 902.4L1326.02 905L1328.3 907.5L1329.13 908.08L1330 908.36L1331.92 907.97L1334.05 907.55L1336.1 908.52L1338.1 909.17L1340.65 906.35L1342.97 903.91L1344.71 905.75L1346.21 909.17L1347.87 916.6L1349.45 921.73L1350.8 919.7L1352.29 916.47L1353.7 914.32L1355.12 913.23L1356.82 915.91L1358.36 920.52L1359.96 926.26L1361.6 931.86L1363.15 935.76L1364.85 937.94L1366.38 936.36L1368.09 933.89L1370.07 932.24L1372.14 931.46L1374.23 932.73L1376.19 935.11L1378.27 938.9L1380.24 943.21L1382.82 948.83L1385.11 952.12L1386.32 947.77L1387.13 940.78L1387.95 934.25L1389.16 930.24L1391.12 932.49L1393.21 936.73L1394.88 941.6L1396.45 946.45L1398.06 950.37L1399.69 952.53L1401.26 949.41L1402.93 944.83L1404.55 942.37L1406.18 941.18L1407.94 944.02L1409.42 948.88L1410.68 954.66L1411.85 961.04L1413.82 971.02L1415.9 977.24L1417.26 973.35L1418.74 967.52L1420.11 964.59L1421.57 963.06L1423.27 965.14L1424.81 969.14L1426.18 976.69L1427.24 985.35L1428.87 996.21L1430.49 1002.77L1431.74 996.16L1432.92 985.35L1433.9 977.01L1435.35 969.95L1436.84 966.71L1438.59 965.09L1440.98 967.53L1443.45 971.57L1445.63 974.24L1447.5 977.24L1448.97 983.08L1449.94 989.4L1450.7 995.53L1451.56 999.12L1453.07 994.63L1454.8 987.78L1455.91 984.66L1457.23 982.11L1458.82 980.16L1460.47 979.27L1462.23 981.48L1463.71 985.35L1465.1 991.26L1466.14 997.5L1466.86 1003.1L1467.76 1006.42L1468.81 1005.13L1470 1002.69L1471.39 999.21L1473.24 996.45L1476.06 996.1L1478.91 997.18L1481.31 1001.18L1482.97 1006.74L1484.39 1014.09L1485.4 1022.14L1486.44 1031.72L1487.42 1040.78L1488.2 1047.05L1489.04 1050.5L1489.98 1044.5L1491.47 1035.92L1493.11 1033.17L1495.12 1031.05L1497.59 1029.51L1499.98 1027.81L1501.69 1024.3L1503.23 1020.52L1505.23 1017.17L1507.28 1015.33L1508.91 1017.45L1510.52 1020.52L1511.93 1022.18L1513.35 1022.95L1515.12 1020.61L1517 1017.28L1518.92 1015.39L1521.05 1014.2L1523.59 1014.01L1525.92 1014.85L1527.45 1017.87L1528.35 1022.14L1529.29 1029.06L1529.97 1036.73L1530.83 1044.89L1531.59 1052.93L1531.93 1061.11L1532.4 1065.9L1533.43 1060.92L1534.83 1052.93L1536.26 1047.59L1538.07 1043.21L1539.67 1041.03L1541.31 1040.13L1543.42 1044.52L1545.36 1051.31L1547.47 1055.92L1549.42 1061.04L1551.26 1072.24L1552.66 1085.35L1554.67 1105.69L1556.5 1118.4L1557.53 1109.28L1558.5 1095L1559.29 1085.6L1560.5 1080.2L1562.2 1082.95L1564 1088L1565.57 1095.32L1567 1100L1568.68 1094.48L1570.5 1086L1572.05 1080.96L1573.7 1078.2L1575.83 1082.47L1578 1090L1580.5 1100.98L1583 1108L1585.17 1102.85L1587.5 1095L1589.62 1090.57L1591.6 1088.3L1593.35 1094.36L1594.5 1105L1595.78 1119.6L1596.8 1135L1597.7 1151.07L1598.6 1160.5L1599.76 1149.32L1601 1130L1602.3 1109.74L1604 1090L1605.67 1075.89L1608.5 1065L1611.19 1061.29L1614.2 1059.6L1617.27 1060.85L1620 1064L1622.11 1072.93L1623 1085L1624.4 1106.4L1625.5 1130L1626.61 1158.65L1627.8 1175.9L1629.09 1162.41L1630.5 1140L1631.79 1121.2L1633.5 1105L1634.95 1097.84L1636.5 1094.2L1638.32 1099.67L1640 1110L1641.92 1129.26L1643.5 1150L1644.86 1168.23L1646.3 1178.7L1647.78 1169.76L1649.5 1155L1651.68 1141.17L1653.8 1133L1655.59 1146.61L1657 1170L1658.62 1199.37L1660.2 1217.6L1661.77 1199.44L1663.5 1170L1665.52 1145.61L1667.5 1131.4L1668.85 1143.96L1670 1165L1671.07 1186.83L1672.2 1200L1673.8 1180.38L1676 1150L1678.68 1131.46L1681.3 1121.2L1683.26 1142.51L1684.5 1180L1686.02 1224.31L1687.5 1270L1689.17 1317.48L1690.9 1345.3L1692.44 1320.95L1694 1280L1695.61 1243.21L1697.5 1210L1699.1 1191.39L1700.8 1181.5L1702.72 1195.62L1704.5 1220L1706.09 1245.08L1707.5 1270L1708.72 1293.17L1709.9 1306.5L1711.19 1289.65L1712.5 1260L1714.15 1224.29L1716 1190L1717.55 1168.29L1719.2 1156.5L1721.1 1171.99L1723 1200L1725.55 1239L1728 1280L1729.98 1313.96L1732 1345L1733.89 1370.01L1735.7 1384L1737.25 1364.4L1738.5 1330L1739.72 1289.24L1741 1250L1742.19 1224.39L1743.6 1210.4L1745.21 1223.38L1747 1245L1748.97 1266.39L1750.9 1279.2L1752.21 1269.68L1753.5 1255L1754.59 1246.37L1755.7 1241.6L1757.7 1256.71L1759.5 1283.3L1760.94 1313.98L1762 1346.6L1763 1380.83L1763.9 1414.5L1763.9 1414.5M1768.4 1414.5L1768.4 1414.5L1768.92 1349.41L1770.3 1283.3L1773 1249.31L1775.9 1220L1777.34 1198.16L1779 1180L1780.59 1170.53L1782.3 1165.6L1784.12 1172.53L1786 1185L1788.97 1201.45L1791.8 1220L1794 1245.39L1796 1270L1797.96 1287.39L1800 1297L1801.41 1291.59L1802.8 1283L1803.99 1276.87L1805.1 1273.4L1806.54 1283.66L1807.6 1302.3L1808.47 1329.6L1809 1359L1809.54 1391.94L1810.1 1411.5L1810.81 1392.14L1811.6 1359L1812.51 1326.9L1813.5 1295L1814.4 1268.86L1815.5 1245L1816.64 1225.29L1818 1214.2L1819.72 1226.56L1821.5 1245L1822.17 1253.18L1823.5 1258L1825.12 1257.46L1827 1256L1829.38 1253.71L1831.6 1252.5L1834.08 1261.22L1835.5 1275L1836.82 1287.65L1838 1300L1839.25 1311.74L1840.5 1318.5L1841.72 1309.33L1843 1295L1844.32 1285.64L1845.6 1280.4L1846.64 1287.83L1847.5 1300L1848.2 1310.99L1849 1317.5L1850.31 1308.78L1852 1295L1853.85 1285.27L1855.7 1279.8L1857.86 1295.02L1859.5 1321L1860.93 1346.45L1862 1372L1862.75 1393.14L1863.3 1414.5L1863.3 1414.5M1882.3 1414.5L1882.3 1414.5L1884.5 1340L1887.3 1280.4L1890 1340L1892.4 1414.5L1892.4 1414.5M1920.3 1414.5L1920.3 1414.5L1922.5 1340L1925.3 1280.4L1928 1340L1930.4 1414.5L1930.4 1414.5" stroke="#D95319"/>
<path d="M226.1 885.7L226.16 878.84L226.32 861.3L226.54 837.62L226.78 812.34L227 790L227.19 770.25L227.39 750.49L227.59 730.61L227.81 710.48L228.05 690L228.34 667.51L228.66 644.58L229 621.39L229.35 598.13L229.7 575L230.05 551.64L230.4 527.93L230.76 504.4L231.13 481.58L231.5 460L231.8 443.42L232.1 427.66L232.41 412.4L232.74 397.29L233.1 382L233.51 366.37L233.95 350.43L234.42 334.7L234.87 319.71L235.3 306L235.59 296.98L235.87 288.71L236.14 280.81L236.41 272.92L236.7 264.65L237.02 255.22L237.35 245.5L237.68 235.71L238.02 226.06L238.35 216.75L238.65 208.73L238.94 200.89L239.24 193.22L239.54 185.65L239.85 178.16L240.14 171.21L240.44 164.34L240.74 157.56L241.04 150.87L241.35 144.3L241.64 138.29L241.94 132.36L242.23 126.53L242.54 120.79L242.85 115.16L243.15 110.03L243.45 104.9L243.76 99.9L244.06 95.15L244.35 90.75L244.56 87.75L244.75 84.95L244.95 82.29L245.15 79.69L245.35 77.1L245.54 74.71L245.74 72.35L245.94 70.04L246.14 67.77L246.35 65.55L246.54 63.58L246.74 61.64L246.94 59.75L247.14 57.9L247.35 56.1L247.54 54.55L247.73 53.03L247.93 51.55L248.14 50.12L248.35 48.75L248.54 47.62L248.73 46.52L248.92 45.46L249.13 44.45L249.35 43.5L249.53 42.78L249.71 42.09L249.9 41.43L250.11 40.85L250.35 40.35L250.53 40.05L250.73 39.77L250.94 39.53L251.14 39.36L251.35 39.3L251.55 39.36L251.76 39.52L251.97 39.74L252.17 40.02L252.35 40.3L252.59 40.77L252.8 41.33L252.99 41.95L253.17 42.62L253.35 43.3L253.57 44.2L253.78 45.16L253.97 46.17L254.16 47.22L254.35 48.3L254.56 49.61L254.77 50.97L254.97 52.38L255.16 53.82L255.35 55.3L255.56 57.01L255.76 58.77L255.96 60.58L256.16 62.42L256.35 64.3L256.56 66.41L256.76 68.58L256.96 70.78L257.16 73.02L257.35 75.3L257.55 77.77L257.75 80.24L257.95 82.78L258.14 85.44L258.35 88.3L258.64 92.49L258.94 97.02L259.25 101.78L259.55 106.66L259.85 111.55L260.16 116.91L260.47 122.37L260.76 127.93L261.06 133.58L261.35 139.3L261.66 145.53L261.96 151.85L262.26 158.26L262.55 164.82L262.85 171.55L263.18 179.33L263.51 187.32L263.84 195.49L264.17 203.8L264.5 212.22L264.86 221.7L265.23 231.57L265.59 241.48L265.95 251.07L266.3 260L266.55 266.62L266.78 272.95L267.01 279.02L267.28 284.83L267.6 290.4L267.92 294.75L268.29 298.92L268.68 302.93L269.06 306.81L269.4 310.6L269.63 313.89L269.8 317.17L269.97 320.32L270.22 323.24L270.6 325.8L270.94 327.26L271.33 328.58L271.75 329.79L272.18 330.92L272.6 332L272.92 332.9L273.24 333.86L273.56 334.73L273.88 335.36L274.2 335.6L274.52 335.36L274.85 334.73L275.17 333.86L275.49 332.9L275.8 332L276.18 330.92L276.56 329.79L276.92 328.57L277.27 327.25L277.6 325.8L278.07 323.23L278.48 320.32L278.87 317.17L279.24 313.89L279.6 310.6L280.01 306.77L280.4 302.8L280.78 298.73L281.14 294.58L281.5 290.4L281.87 286L282.23 281.66L282.58 277.18L282.93 272.37L283.3 267L283.92 256.97L284.58 245.3L285.24 232.96L285.86 220.86L286.4 209.95L286.74 202.44L287.04 195.38L287.3 188.61L287.57 181.96L287.85 175.26L288.14 168.79L288.44 162.36L288.74 155.99L289.04 149.71L289.35 143.53L289.64 137.87L289.94 132.28L290.24 126.78L290.54 121.36L290.85 116.04L291.14 111.22L291.43 106.48L291.73 101.82L292.04 97.25L292.35 92.78L292.64 88.75L292.95 84.75L293.26 80.85L293.56 77.15L293.85 73.74L294.05 71.45L294.25 69.33L294.45 67.31L294.64 65.35L294.85 63.4L295.04 61.64L295.24 59.9L295.44 58.21L295.64 56.55L295.85 54.94L296.04 53.55L296.23 52.19L296.43 50.87L296.64 49.59L296.85 48.36L297.04 47.35L297.23 46.36L297.42 45.41L297.63 44.51L297.85 43.66L298.03 43.02L298.21 42.39L298.4 41.81L298.61 41.28L298.85 40.84L299.03 40.57L299.23 40.32L299.44 40.1L299.65 39.96L299.85 39.9L300.05 39.96L300.26 40.1L300.47 40.32L300.67 40.57L300.85 40.84L301.09 41.28L301.3 41.81L301.49 42.39L301.67 43.02L301.85 43.66L302.07 44.51L302.28 45.41L302.47 46.36L302.66 47.35L302.85 48.36L303.06 49.59L303.27 50.87L303.47 52.19L303.66 53.55L303.85 54.94L304.06 56.55L304.26 58.21L304.46 59.9L304.66 61.64L304.85 63.4L305.06 65.35L305.25 67.31L305.45 69.33L305.65 71.45L305.85 73.74L306.14 77.15L306.44 80.85L306.75 84.75L307.06 88.75L307.35 92.78L307.66 97.25L307.97 101.82L308.27 106.48L308.56 111.22L308.85 116.04L309.16 121.36L309.46 126.78L309.76 132.28L310.06 137.87L310.35 143.53L310.65 149.7L310.94 155.94L311.23 162.28L311.53 168.72L311.85 175.26L312.22 182.63L312.61 190.3L313.01 198L313.41 205.42L313.8 212.3L314.1 217.18L314.4 221.73L314.7 226.11L315 230.48L315.3 235L315.61 240.02L315.93 245.21L316.24 250.39L316.55 255.38L316.85 260L317.07 263.32L317.26 266.48L317.47 269.49L317.7 272.39L318 275.2L318.29 277.54L318.61 279.83L318.96 282.02L319.35 284.1L319.8 286L320.16 287.47L320.55 289.01L320.97 290.39L321.41 291.4L321.9 291.8L322.53 291.26L323.22 289.84L323.96 287.91L324.72 285.84L325.5 284L326.35 282.31L327.22 280.63L328.12 278.92L329.05 277.13L330 275.2L331.29 272.41L332.64 269.35L334.03 266.17L335.42 263.01L336.8 260L337.97 257.44L339.08 254.97L340.22 252.54L341.49 250.07L343 247.5L345.35 243.97L348.06 240.26L351 236.5L354.06 232.8L357.1 229.3L360.07 226.06L363.15 222.86L366.27 219.8L369.35 216.95L372.3 214.4L374.49 212.58L376.61 210.86L378.7 209.32L380.78 208.01L382.9 207L384.7 206.47L386.5 206.21L388.3 206.1L390.13 206L392 205.8L394.06 205.4L396.13 204.92L398.24 204.44L400.43 204.07L402.7 203.9L405.57 204.07L408.59 204.54L411.69 205.16L414.82 205.77L417.9 206.2L420.88 206.44L423.82 206.61L426.79 206.72L429.83 206.78L433 206.8L437.1 206.84L441.54 206.87L446.01 206.81L450.16 206.57L453.67 206.08L455.48 205.6L457.08 205.01L458.53 204.36L459.91 203.68L461.27 203.04L462.39 202.45L463.45 201.77L464.48 201.13L465.51 200.65L466.58 200.46L467.78 200.64L469.02 201.13L470.27 201.82L471.49 202.59L472.66 203.35L473.74 204.12L474.73 204.96L475.72 205.85L476.78 206.74L477.98 207.6L479.88 208.64L482.06 209.62L484.35 210.61L486.59 211.68L488.61 212.92L490.3 214.23L491.88 215.63L493.36 217.14L494.79 218.76L496.21 220.51L497.84 222.9L499.42 225.6L500.94 228.4L502.4 231.08L503.8 233.43L504.76 234.91L505.66 236.3L506.55 237.59L507.44 238.76L508.36 239.81L509.1 240.59L509.86 241.35L510.62 242.02L511.39 242.49L512.16 242.69L512.92 242.58L513.71 242.23L514.49 241.68L515.25 241.01L515.95 240.26L516.86 239.03L517.68 237.54L518.44 235.83L519.17 233.94L519.9 231.91L521.04 228.33L522.14 224.21L523.19 219.75L524.17 215.16L525.07 210.64L525.89 205.94L526.59 201.18L527.22 196.34L527.86 191.4L528.56 186.33L529.43 180.4L530.33 174.21L531.25 167.95L532.18 161.8L533.12 155.95L533.91 151.03L534.7 146.14L535.5 141.43L536.33 137.05L537.22 133.17L537.82 130.81L538.41 128.6L539.04 126.57L539.74 124.79L540.56 123.29L541.2 122.41L541.89 121.58L542.61 120.9L543.34 120.43L544.06 120.26L544.76 120.43L545.48 120.9L546.19 121.59L546.88 122.42L547.55 123.29L548.52 124.79L549.45 126.57L550.33 128.58L551.17 130.8L551.96 133.17L552.97 137.04L553.85 141.41L554.63 146.12L555.4 151.02L556.21 155.95L557.19 161.75L558.18 167.79L559.17 173.97L560.14 180.18L561.07 186.33L561.96 192.48L562.81 198.7L563.64 204.88L564.47 210.92L565.32 216.72L566.08 221.56L566.84 226.29L567.6 230.88L568.37 235.3L569.12 239.5L569.72 242.81L570.29 246.01L570.88 249.08L571.49 251.98L572.16 254.69L572.69 256.72L573.22 258.69L573.79 260.53L574.43 262.16L575.2 263.5L575.78 264.27L576.41 264.96L577.08 265.53L577.79 265.92L578.54 266.09L579.58 265.82L580.71 265.09L581.89 264.12L583.1 263.11L584.31 262.29L585.51 261.58L586.74 260.82L587.98 260.14L589.21 259.68L590.39 259.55L591.5 259.83L592.59 260.41L593.66 261.2L594.7 262.11L595.7 263.05L596.79 264.22L597.77 265.55L598.75 266.99L599.8 268.45L601.02 269.88L602.91 271.77L605.07 273.76L607.35 275.73L609.6 277.53L611.65 279L612.93 279.81L614.15 280.5L615.33 281.08L616.51 281.59L617.73 282.04L618.93 282.42L620.14 282.76L621.36 283.02L622.59 283.19L623.81 283.25L625.03 283.2L626.26 283.05L627.48 282.8L628.69 282.46L629.88 282.04L631.13 281.45L632.36 280.73L633.56 279.93L634.76 279.08L635.96 278.24L637.19 277.33L638.43 276.35L639.65 275.37L640.85 274.45L642.04 273.68L642.97 273.13L643.88 272.61L644.78 272.17L645.68 271.85L646.59 271.71L647.51 271.76L648.44 271.97L649.36 272.3L650.27 272.73L651.15 273.22L652.1 273.86L652.99 274.61L653.88 275.47L654.77 276.42L655.71 277.48L657.13 279.33L658.6 281.54L660.11 283.88L661.68 286.15L663.3 288.11L664.71 289.56L666.13 290.9L667.6 292.12L669.18 293.22L670.9 294.19L673.07 295.04L675.43 295.65L677.92 296.14L680.48 296.62L683.05 297.23L686.01 298.11L689.08 299.11L692.19 300.12L695.27 301.05L698.24 301.78L700.76 302.17L703.25 302.37L705.68 302.53L708.07 302.79L710.39 303.3L712.54 304.13L714.54 305.18L716.53 306.34L718.65 307.52L721.03 308.62L724.85 309.99L729.12 311.29L733.66 312.58L738.28 313.89L742.79 315.27L747.39 316.79L752.1 318.4L756.78 320.02L761.31 321.63L765.57 323.17L768.76 324.35L771.73 325.48L774.61 326.6L777.57 327.74L780.76 328.94L785.02 330.51L789.53 332.17L794.2 333.86L798.91 335.54L803.55 337.14L808.17 338.69L812.87 340.23L817.54 341.72L822.06 343.13L826.33 344.43L829.57 345.35L832.64 346.16L835.61 346.94L838.55 347.75L841.53 348.69L844.58 349.82L847.61 351.08L850.63 352.39L853.66 353.64L856.72 354.76L859.74 355.66L862.79 356.4L865.85 357.11L868.89 357.9L871.91 358.87L874.98 360.11L878.02 361.52L881.04 363.02L884.07 364.54L887.1 366L890.13 367.42L893.17 368.84L896.2 370.24L899.24 371.63L902.59 372.99L905.64 374.33L908.73 375.65L911.81 376.94L914.84 378.19L917.78 379.37L920.35 380.3L922.91 381.11L925.4 381.92L927.76 382.82L929.93 383.93L931.6 385.19L933.06 386.66L934.45 388.18L935.89 389.6L937.53 390.77L939.46 391.57L941.53 392.08L943.69 392.49L945.92 393L948.16 393.8L951.08 395.38L954.09 397.35L957.16 399.53L960.26 401.71L963.35 403.68L966.36 405.33L969.38 406.85L972.42 408.33L975.47 409.88L978.54 411.58L981.92 413.66L985.33 415.9L988.75 418.23L992.15 420.55L995.49 422.79L998.58 424.81L1001.62 426.8L1004.64 428.76L1007.65 430.71L1010.68 432.66L1013.73 434.55L1016.79 436.37L1019.85 438.21L1022.89 440.14L1025.87 442.23L1028.98 444.65L1032.04 447.22L1035.06 449.9L1038.07 452.66L1041.06 455.45L1044.13 458.39L1047.17 461.44L1050.19 464.53L1053.21 467.61L1056.25 470.64L1059.3 473.5L1062.38 476.27L1065.45 479.06L1068.48 481.95L1071.44 485.07L1074.59 488.77L1077.66 492.69L1080.67 496.77L1083.66 500.94L1086.63 505.12L1089.71 509.5L1092.76 513.98L1095.79 518.51L1098.81 523.06L1101.83 527.6L1104.88 532.16L1107.95 536.74L1111 541.33L1113.98 545.88L1116.83 550.38L1119.38 554.48L1121.86 558.52L1124.27 562.53L1126.58 566.56L1128.78 570.63L1130.84 574.64L1132.81 578.67L1134.68 582.72L1136.45 586.79L1138.1 590.89L1139.56 594.9L1140.88 598.95L1142.11 603.01L1143.3 607.07L1144.5 611.14L1145.67 615.18L1146.79 619.24L1147.9 623.29L1149.03 627.34L1150.19 631.39L1151.49 635.59L1152.9 639.91L1154.29 644.17L1155.52 648.15L1156.49 651.65L1156.89 653.45L1157.18 654.99L1157.41 656.45L1157.65 658.05L1157.99 660L1158.93 664.86L1160.1 670.78L1161.39 677.31L1162.67 683.99L1163.82 690.38L1164.83 696.45L1165.77 702.52L1166.66 708.6L1167.52 714.68L1168.37 720.76L1169.18 726.83L1169.95 732.91L1170.69 738.99L1171.45 745.07L1172.25 751.14L1173.09 757.22L1173.96 763.29L1174.84 769.37L1175.72 775.44L1176.57 781.52L1177.44 787.61L1178.31 793.71L1179.17 799.8L1179.97 805.87L1180.68 811.9L1181.25 817.56L1181.74 823.06L1182.18 828.59L1182.63 834.38L1183.13 840.63L1183.91 849.86L1184.77 859.9L1185.65 870.39L1186.47 880.97L1187.18 891.27L1187.74 900.87L1188.21 910.23L1188.64 919.66L1189.19 929.48L1189.86 940L1190.76 954.91L1193.3 971.67L1201.3 976.81L1209.3 982.01L1217.3 987.3L1225.3 992.65L1233.3 998.06L1241.3 1003.54L1249.3 1009.08L1257.3 1014.67L1265.3 1020.31L1273.3 1026L1281.3 1031.74L1289.3 1037.52L1297.3 1043.33L1305.3 1049.19L1313.3 1055.07L1321.3 1060.99L1329.3 1066.94L1337.3 1072.91L1345.3 1078.91L1353.3 1084.94L1361.3 1090.99L1369.3 1097.05L1377.3 1103.14L1385.3 1109.24L1393.3 1115.36L1401.3 1121.5L1409.3 1127.65L1417.3 1133.81L1425.3 1139.99L1433.3 1146.18L1441.3 1152.39L1449.3 1158.6L1457.3 1164.83L1465.3 1171.08L1473.3 1177.34L1481.3 1183.61L1489.3 1189.89L1497.3 1196.19L1505.3 1202.51L1513.3 1208.84L1521.3 1215.2L1529.3 1221.57L1537.3 1227.96L1545.3 1234.38L1553.3 1240.82L1561.3 1247.29L1569.3 1253.78L1577.3 1260.31L1585.3 1266.86L1593.3 1273.46L1601.3 1280.09L1609.3 1286.76L1617.3 1293.47L1625.3 1300.23L1633.3 1307.04L1641.3 1313.91L1649.3 1320.83L1657.3 1327.81L1665.3 1334.85L1673.3 1341.96L1681.3 1349.14L1689.3 1356.4L1697.3 1363.73L1705.3 1371.15L1713.3 1378.66L1721.3 1386.26L1729.3 1393.96L1737.3 1401.77L1745.3 1409.68L1750.11 1414.5" stroke="#EDB120"/>
<path d="M226.1 885.7L226.16 878.84L226.32 861.3L226.54 837.62L226.78 812.34L227 790L227.19 770.25L227.39 750.49L227.59 730.61L227.81 710.48L228.05 690L228.34 667.51L228.66 644.58L229 621.39L229.35 598.13L229.7 575L230.05 551.64L230.4 527.93L230.76 504.4L231.13 481.58L231.5 460L231.8 443.42L232.1 427.66L232.41 412.4L232.74 397.29L233.1 382L233.51 366.37L233.95 350.43L234.42 334.7L234.87 319.71L235.3 306L235.59 296.98L235.87 288.71L236.14 280.81L236.41 272.92L236.7 264.65L237.02 255.22L237.35 245.5L237.68 235.71L238.02 226.06L238.35 216.75L238.65 208.73L238.94 200.89L239.24 193.22L239.54 185.65L239.85 178.16L240.14 171.21L240.44 164.34L240.74 157.56L241.04 150.87L241.35 144.3L241.64 138.29L241.94 132.36L242.23 126.53L242.54 120.79L242.85 115.16L243.15 110.03L243.45 104.9L243.76 99.9L244.06 95.15L244.35 90.75L244.56 87.75L244.75 84.95L244.95 82.29L245.15 79.69L245.35 77.1L245.54 74.71L245.74 72.35L245.94 70.04L246.14 67.77L246.35 65.55L246.54 63.58L246.74 61.64L246.94 59.75L247.14 57.9L247.35 56.1L247.54 54.55L247.73 53.03L247.93 51.55L248.14 50.12L248.35 48.75L248.54 47.62L248.73 46.52L248.92 45.46L249.13 44.45L249.35 43.5L249.53 42.78L249.71 42.09L249.9 41.43L250.11 40.85L250.35 40.35L250.53 40.05L250.73 39.77L250.94 39.53L251.14 39.36L251.35 39.3L251.55 39.36L251.76 39.52L251.97 39.74L252.17 40.02L252.35 40.3L252.59 40.77L252.8 41.33L252.99 41.95L253.17 42.62L253.35 43.3L253.57 44.2L253.78 45.16L253.97 46.17L254.16 47.22L254.35 48.3L254.56 49.61L254.77 50.97L254.97 52.38L255.16 53.82L255.35 55.3L255.56 57.01L255.76 58.77L255.96 60.58L256.16 62.42L256.35 64.3L256.56 66.41L256.76 68.58L256.96 70.78L257.16 73.02L257.35 75.3L257.55 77.77L257.75 80.24L257.95 82.78L258.14 85.44L258.35 88.3L258.64 92.49L258.94 97.02L259.25 101.78L259.55 106.66L259.85 111.55L260.16 116.91L260.47 122.37L260.76 127.93L261.06 133.58L261.35 139.3L261.66 145.53L261.96 151.85L262.26 158.26L262.55 164.82L262.85 171.55L263.18 179.33L263.51 187.32L263.84 195.49L264.17 203.8L264.5 212.22L264.86 221.7L265.23 231.57L265.59 241.48L265.95 251.07L266.3 260L266.55 266.62L266.78 272.95L267.01 279.02L267.28 284.83L267.6 290.4L267.92 294.75L268.29 298.92L268.68 302.93L269.06 306.81L269.4 310.6L269.63 313.89L269.8 317.17L269.97 320.32L270.22 323.24L270.6 325.8L270.94 327.26L271.33 328.58L271.75 329.79L272.18 330.92L272.6 332L272.92 332.9L273.24 333.86L273.56 334.73L273.88 335.36L274.2 335.6L274.52 335.36L274.85 334.73L275.17 333.86L275.49 332.9L275.8 332L276.18 330.92L276.56 329.79L276.92 328.57L277.27 327.25L277.6 325.8L278.07 323.23L278.48 320.32L278.87 317.17L279.24 313.89L279.6 310.6L280.01 306.77L280.4 302.8L280.78 298.73L281.14 294.58L281.5 290.4L281.87 286L282.23 281.66L282.58 277.18L282.93 272.37L283.3 267L283.92 256.97L284.58 245.3L285.24 232.96L285.86 220.86L286.4 209.95L286.74 202.44L287.04 195.38L287.3 188.61L287.57 181.96L287.85 175.26L288.14 168.79L288.44 162.36L288.74 155.99L289.04 149.71L289.35 143.53L289.64 137.87L289.94 132.28L290.24 126.78L290.54 121.36L290.85 116.04L291.14 111.22L291.43 106.48L291.73 101.82L292.04 97.25L292.35 92.78L292.64 88.75L292.95 84.75L293.26 80.85L293.56 77.15L293.85 73.74L294.05 71.45L294.25 69.33L294.45 67.31L294.64 65.35L294.85 63.4L295.04 61.64L295.24 59.9L295.44 58.21L295.64 56.55L295.85 54.94L296.04 53.55L296.23 52.19L296.43 50.87L296.64 49.59L296.85 48.36L297.04 47.35L297.23 46.36L297.42 45.41L297.63 44.51L297.85 43.66L298.03 43.02L298.21 42.39L298.4 41.81L298.61 41.28L298.85 40.84L299.03 40.57L299.23 40.32L299.44 40.1L299.65 39.96L299.85 39.9L300.05 39.96L300.26 40.1L300.47 40.32L300.67 40.57L300.85 40.84L301.09 41.28L301.3 41.81L301.49 42.39L301.67 43.02L301.85 43.66L302.07 44.51L302.28 45.41L302.47 46.36L302.66 47.35L302.85 48.36L303.06 49.59L303.27 50.87L303.47 52.19L303.66 53.55L303.85 54.94L304.06 56.55L304.26 58.21L304.46 59.9L304.66 61.64L304.85 63.4L305.06 65.35L305.25 67.31L305.45 69.33L305.65 71.45L305.85 73.74L306.14 77.15L306.44 80.85L306.75 84.75L307.06 88.75L307.35 92.78L307.66 97.25L307.97 101.82L308.27 106.48L308.56 111.22L308.85 116.04L309.16 121.36L309.46 126.78L309.76 132.28L310.06 137.87L310.35 143.53L310.65 149.7L310.94 155.94L311.23 162.28L311.53 168.72L311.85 175.26L312.22 182.63L312.61 190.3L313.01 198L313.41 205.42L313.8 212.3L314.1 217.18L314.4 221.73L314.7 226.11L315 230.48L315.3 235L315.61 240.02L315.93 245.21L316.24 250.39L316.55 255.38L316.85 260L317.07 263.32L317.26 266.48L317.47 269.49L317.7 272.39L318 275.2L318.29 277.54L318.61 279.83L318.96 282.02L319.35 284.1L319.8 286L320.16 287.47L320.55 289.01L320.97 290.39L321.41 291.4L321.9 291.8L322.53 291.26L323.22 289.84L323.96 287.91L324.72 285.84L325.5 284L326.35 282.31L327.22 280.63L328.12 278.92L329.05 277.13L330 275.2L331.79 271.61L333.14 268.55L334.53 265.37L335.92 262.21L337.3 259.2L338.47 256.64L339.58 254.17L340.72 251.74L341.99 249.27L343.5 246.7L345.85 243.17L348.56 239.46L351.5 235.7L354.56 232L357.6 228.5L360.57 225.26L363.65 222.06L366.77 219L369.85 216.15L372.8 213.6L374.99 211.78L377.11 210.06L379.2 208.52L381.28 207.21L383.4 206.2L385.2 205.67L387 205.41L388.8 205.3L390.63 205.2L392.5 205L394.56 204.6L396.63 204.12L398.74 203.64L400.93 203.27L403.2 203.1L406.07 203.27L409.09 203.74L412.19 204.36L415.32 204.97L418.4 205.4L421.38 205.64L424.32 205.81L427.29 205.92L430.33 205.98L433.5 206L437.6 206.04L442.04 206.07L446.51 206.01L450.66 205.77L454.17 205.28L455.98 204.8L457.58 204.21L459.03 203.56L460.41 202.88L461.77 202.24L462.89 201.65L463.95 200.97L464.98 200.33L466.01 199.85L467.08 199.66L468.28 199.84L469.52 200.33L470.77 201.02L471.99 201.79L473.16 202.55L474.24 203.32L475.23 204.16L476.22 205.05L477.28 205.94L478.48 206.8L480.38 207.84L482.56 208.82L484.85 209.81L487.09 210.88L489.11 212.12L490.8 213.43L492.38 214.83L493.86 216.34L495.29 217.96L496.71 219.71L498.34 222.1L499.92 224.8L501.44 227.6L502.9 230.28L504.3 232.63L505.26 234.11L506.16 235.5L507.05 236.79L507.94 237.96L508.86 239.01L509.6 239.79L510.36 240.55L511.12 241.22L511.89 241.69L512.66 241.89L513.42 241.78L514.21 241.43L514.99 240.88L515.75 240.21L516.45 239.46L517.36 238.23L518.18 236.74L518.94 235.03L519.67 233.14L520.4 231.11L521.54 227.53L522.64 223.41L523.69 218.95L524.67 214.36L525.57 209.84L526.39 205.14L527.09 200.38L527.72 195.54L528.36 190.6L529.06 185.53L529.93 179.6L530.83 173.41L531.75 167.15L532.68 161L533.62 155.15L534.41 150.23L535.2 145.34L536 140.63L536.83 136.25L537.72 132.37L538.32 130.01L538.91 127.8L539.54 125.77L540.24 123.99L541.06 122.49L541.7 121.61L542.39 120.78L543.11 120.1L543.84 119.63L544.56 119.46L545.26 119.63L545.98 120.1L546.69 120.79L547.38 121.62L548.05 122.49L549.02 123.99L549.95 125.77L550.83 127.78L551.67 130L552.46 132.37L553.47 136.24L554.35 140.61L555.13 145.32L555.9 150.22L556.71 155.15L557.69 160.95L558.68 166.99L559.67 173.17L560.64 179.38L561.57 185.53L562.46 191.68L563.31 197.9L564.14 204.08L564.97 210.12L565.82 215.92L566.58 220.76L567.34 225.49L568.1 230.08L568.87 234.5L569.62 238.7L570.22 242.01L570.79 245.21L571.38 248.28L571.99 251.18L572.66 253.89L573.19 255.92L573.72 257.89L574.29 259.73L574.93 261.36L575.7 262.7L576.28 263.47L576.91 264.16L577.58 264.73L578.29 265.12L579.04 265.29L580.08 265.02L581.21 264.29L582.39 263.32L583.6 262.31L584.81 261.49L586.01 260.78L587.24 260.02L588.48 259.34L589.71 258.88L590.89 258.75L592 259.03L593.09 259.61L594.16 260.4L595.2 261.31L596.2 262.25L597.29 263.42L598.27 264.75L599.25 266.19L600.3 267.65L601.52 269.08L603.41 270.97L605.57 272.96L607.85 274.93L610.1 276.73L612.15 278.2L613.43 279.01L614.65 279.7L615.83 280.28L617.01 280.79L618.23 281.24L619.43 281.62L620.64 281.96L621.86 282.22L623.09 282.39L624.31 282.45L625.53 282.4L626.76 282.25L627.98 282L629.19 281.66L630.38 281.24L631.63 280.65L632.86 279.93L634.06 279.13L635.26 278.28L636.46 277.44L637.69 276.53L638.93 275.55L640.15 274.57L641.35 273.65L642.54 272.88L643.47 272.33L644.38 271.81L645.28 271.37L646.18 271.05L647.09 270.91L648.01 270.96L648.94 271.17L649.86 271.5L650.77 271.93L651.65 272.42L652.6 273.06L653.49 273.81L654.38 274.67L655.27 275.62L656.21 276.68L657.63 278.53L659.1 280.74L660.61 283.08L662.18 285.35L663.8 287.31L665.21 288.76L666.63 290.1L668.1 291.32L669.68 292.42L671.4 293.39L673.57 294.24L675.93 294.85L678.42 295.34L680.98 295.82L683.55 296.43L686.51 297.31L689.58 298.31L692.69 299.32L695.77 300.25L698.74 300.98L701.26 301.37L703.75 301.57L706.18 301.73L708.57 301.99L710.89 302.5L713.04 303.33L715.04 304.38L717.03 305.54L719.15 306.72L721.53 307.82L725.35 309.19L729.62 310.49L734.16 311.78L738.78 313.09L743.29 314.47L747.89 315.99L752.6 317.6L757.28 319.22L761.81 320.83L766.07 322.37L769.26 323.55L772.23 324.68L775.11 325.8L778.07 326.94L781.26 328.14L785.52 329.71L790.03 331.37L794.7 333.06L799.41 334.74L804.05 336.34L808.67 337.89L813.37 339.43L818.04 340.92L822.56 342.33L826.83 343.63L830.07 344.55L833.14 345.36L836.11 346.14L839.05 346.95L842.03 347.89L845.08 349.02L848.11 350.28L851.13 351.59L854.16 352.84L857.22 353.96L860.24 354.86L863.29 355.6L866.35 356.31L869.39 357.1L872.41 358.07L875.48 359.31L878.52 360.72L881.54 362.22L884.57 363.74L887.6 365.2L890.63 366.62L893.67 368.04L896.7 369.44L899.74 370.83L902.89 372.19L905.94 373.53L909.03 374.85L912.11 376.14L915.14 377.39L918.08 378.57L920.65 379.5L923.21 380.31L925.7 381.12L928.06 382.02L930.23 383.13L931.9 384.39L933.36 385.86L934.75 387.38L936.19 388.8L937.83 389.97L939.76 390.77L941.83 391.28L943.99 391.69L946.22 392.2L948.46 393L951.38 394.58L954.39 396.55L957.46 398.73L960.56 400.91L963.66 402.88L966.67 404.53L969.71 406.05L972.76 407.53L975.83 409.08L978.92 410.78L982.32 412.86L985.77 415.1L989.24 417.43L992.68 419.75L996.07 421.99L999.2 424.01L1002.29 426L1005.36 427.96L1008.43 429.91L1011.52 431.86L1014.62 433.75L1017.74 435.57L1020.86 437.41L1023.96 439.34L1027.02 441.43L1030.2 443.85L1033.36 446.42L1036.48 449.1L1039.59 451.86L1042.69 454.65L1045.87 457.59L1049.03 460.64L1052.17 463.73L1055.31 466.81L1058.47 469.84L1061.63 472.7L1064.81 475.47L1067.99 478.26L1071.13 481.15L1074.21 484.27L1077.48 487.97L1080.68 491.89L1083.82 495.97L1086.92 500.14L1090.01 504.32L1093.19 508.7L1096.32 513.18L1099.42 517.71L1102.48 522.26L1105.52 526.8L1108.58 532.16L1111.66 536.74L1114.72 541.33L1117.71 545.88L1120.59 550.38L1123.17 554.48L1125.68 558.52L1128.11 562.53L1130.46 566.56L1132.7 570.63L1134.79 574.64L1136.8 578.67L1138.72 582.72L1140.54 586.79L1142.23 590.89L1143.74 594.9L1145.11 598.95L1146.39 603.01L1147.62 607.07L1148.85 611.14L1150.05 615.18L1151.21 619.24L1152.34 623.29L1153.47 627.34L1154.65 631.39L1155.95 635.59L1157.36 639.91L1158.74 644.17L1159.96 648.15L1160.91 651.65L1161.31 653.45L1161.58 654.99L1161.8 656.45L1162.04 658.05L1162.36 660L1163.25 664.86L1164.36 670.78L1165.56 677.31L1166.74 683.99L1167.82 690.38L1168.81 696.45L1169.79 702.52L1170.79 708.6L1171.83 714.68L1172.91 720.76L1174.02 726.83L1175.15 732.91L1176.3 738.99L1177.51 745.07L1178.78 751.14L1180.13 757.22L1181.51 763.29L1182.9 769.37L1184.27 775.44L1185.6 781.52L1186.9 787.61L1188.15 793.71L1189.31 799.8L1190.33 805.87L1191.16 811.9L1192.8 823.86L1200.8 828.98L1208.8 834.19L1216.8 839.46L1224.8 844.81L1232.8 850.22L1240.8 855.7L1248.8 861.23L1256.8 866.82L1264.8 872.46L1272.8 878.15L1280.8 883.88L1288.8 889.65L1296.8 895.47L1304.8 901.32L1312.8 907.2L1320.8 913.12L1328.8 919.07L1336.8 925.04L1344.8 931.04L1352.8 937.06L1360.8 943.11L1368.8 949.17L1376.8 955.26L1384.8 961.36L1392.8 967.48L1400.8 973.61L1408.8 979.76L1416.8 985.93L1424.8 992.1L1432.8 998.29L1440.8 1004.5L1448.8 1010.71L1456.8 1016.94L1464.8 1023.19L1472.8 1029.44L1480.8 1035.71L1488.8 1042L1496.8 1048.3L1504.8 1054.62L1512.8 1060.95L1520.8 1067.3L1528.8 1073.67L1536.8 1080.06L1544.8 1086.48L1552.8 1092.92L1560.8 1099.38L1568.8 1105.87L1576.8 1112.4L1584.8 1118.95L1592.8 1125.54L1600.8 1132.17L1608.8 1138.84L1616.8 1145.55L1624.8 1152.31L1632.8 1159.12L1640.8 1165.98L1648.8 1172.89L1656.8 1179.87L1664.8 1186.91L1672.8 1194.01L1680.8 1201.19L1688.8 1208.44L1696.8 1215.77L1704.8 1223.19L1712.8 1230.69L1720.8 1238.29L1728.8 1245.98L1736.8 1253.78L1744.8 1261.68L1752.8 1269.7L1760.8 1277.84L1768.8 1286.1L1776.8 1294.49L1784.8 1303.01L1792.8 1311.68L1800.8 1320.5L1808.8 1329.47L1816.8 1338.6L1824.8 1347.9L1832.8 1357.37L1840.8 1367.02L1848.8 1376.86L1856.8 1386.89L1864.8 1397.12L1872.8 1407.57L1878 1414.5" stroke="#7E2F8E"/>
<path d="M226.1 885.7L226.16 878.84L226.32 861.3L226.54 837.62L226.78 812.34L227 790L227.19 770.25L227.39 750.49L227.59 730.61L227.81 710.48L228.05 690L228.34 667.51L228.66 644.58L229 621.39L229.35 598.13L229.7 575L230.05 551.64L230.4 527.93L230.76 504.4L231.13 481.58L231.5 460L231.8 443.42L232.1 427.66L232.41 412.4L232.74 397.29L233.1 382L233.51 366.37L233.95 350.43L234.42 334.7L234.87 319.71L235.3 306L235.59 296.98L235.87 288.71L236.14 280.81L236.41 272.92L236.7 264.65L237.02 255.22L237.35 245.5L237.68 235.71L238.02 226.06L238.35 216.75L238.65 208.73L238.94 200.89L239.24 193.22L239.54 185.65L239.85 178.16L240.14 171.21L240.44 164.34L240.74 157.56L241.04 150.87L241.35 144.3L241.64 138.29L241.94 132.36L242.23 126.53L242.54 120.79L242.85 115.16L243.15 110.03L243.45 104.9L243.76 99.9L244.06 95.15L244.35 90.75L244.56 87.75L244.75 84.95L244.95 82.29L245.15 79.69L245.35 77.1L245.54 74.71L245.74 72.35L245.94 70.04L246.14 67.77L246.35 65.55L246.54 63.58L246.74 61.64L246.94 59.75L247.14 57.9L247.35 56.1L247.54 54.55L247.73 53.03L247.93 51.55L248.14 50.12L248.35 48.75L248.54 47.62L248.73 46.52L248.92 45.46L249.13 44.45L249.35 43.5L249.53 42.78L249.71 42.09L249.9 41.43L250.11 40.85L250.35 40.35L250.53 40.05L250.73 39.77L250.94 39.53L251.14 39.36L251.35 39.3L251.55 39.36L251.76 39.52L251.97 39.74L252.17 40.02L252.35 40.3L252.59 40.77L252.8 41.33L252.99 41.95L253.17 42.62L253.35 43.3L253.57 44.2L253.78 45.16L253.97 46.17L254.16 47.22L254.35 48.3L254.56 49.61L254.77 50.97L254.97 52.38L255.16 53.82L255.35 55.3L255.56 57.01L255.76 58.77L255.96 60.58L256.16 62.42L256.35 64.3L256.56 66.41L256.76 68.58L256.96 70.78L257.16 73.02L257.35 75.3L257.55 77.77L257.75 80.24L257.95 82.78L258.14 85.44L258.35 88.3L258.64 92.49L258.94 97.02L259.25 101.78L259.55 106.66L259.85 111.55L260.16 116.91L260.47 122.37L260.76 127.93L261.06 133.58L261.35 139.3L261.66 145.53L261.96 151.85L262.26 158.26L262.55 164.82L262.85 171.55L263.18 179.33L263.51 187.32L263.84 195.49L264.17 203.8L264.5 212.22L264.86 221.7L265.23 231.57L265.59 241.48L265.95 251.07L266.3 260L266.55 266.62L266.78 272.95L267.01 279.02L267.28 284.83L267.6 290.4L267.92 294.75L268.29 298.92L268.68 302.93L269.06 306.81L269.4 310.6L269.63 313.89L269.8 317.17L269.97 320.32L270.22 323.24L270.6 325.8L270.94 327.26L271.33 328.58L271.75 329.79L272.18 330.92L272.6 332L272.92 332.9L273.24 333.86L273.56 334.73L273.88 335.36L274.2 335.6L274.52 335.36L274.85 334.73L275.17 333.86L275.49 332.9L275.8 332L276.18 330.92L276.56 329.79L276.92 328.57L277.27 327.25L277.6 325.8L278.07 323.23L278.48 320.32L278.87 317.17L279.24 313.89L279.6 310.6L280.01 306.77L280.4 302.8L280.78 298.73L281.14 294.58L281.5 290.4L281.87 286L282.23 281.66L282.58 277.18L282.93 272.37L283.3 267L283.92 256.97L284.58 245.3L285.24 232.96L285.86 220.86L286.4 209.95L286.74 202.44L287.04 195.38L287.3 188.61L287.57 181.96L287.85 175.26L288.14 168.79L288.44 162.36L288.74 155.99L289.04 149.71L289.35 143.53L289.64 137.87L289.94 132.28L290.24 126.78L290.54 121.36L290.85 116.04L291.14 111.22L291.43 106.48L291.73 101.82L292.04 97.25L292.35 92.78L292.64 88.75L292.95 84.75L293.26 80.85L293.56 77.15L293.85 73.74L294.05 71.45L294.25 69.33L294.45 67.31L294.64 65.35L294.85 63.4L295.04 61.64L295.24 59.9L295.44 58.21L295.64 56.55L295.85 54.94L296.04 53.55L296.23 52.19L296.43 50.87L296.64 49.59L296.85 48.36L297.04 47.35L297.23 46.36L297.42 45.41L297.63 44.51L297.85 43.66L298.03 43.02L298.21 42.39L298.4 41.81L298.61 41.28L298.85 40.84L299.03 40.57L299.23 40.32L299.44 40.1L299.65 39.96L299.85 39.9L300.05 39.96L300.26 40.1L300.47 40.32L300.67 40.57L300.85 40.84L301.09 41.28L301.3 41.81L301.49 42.39L301.67 43.02L301.85 43.66L302.07 44.51L302.28 45.41L302.47 46.36L302.66 47.35L302.85 48.36L303.06 49.59L303.27 50.87L303.47 52.19L303.66 53.55L303.85 54.94L304.06 56.55L304.26 58.21L304.46 59.9L304.66 61.64L304.85 63.4L305.06 65.35L305.25 67.31L305.45 69.33L305.65 71.45L305.85 73.74L306.14 77.15L306.44 80.85L306.75 84.75L307.06 88.75L307.35 92.78L307.66 97.25L307.97 101.82L308.27 106.48L308.56 111.22L308.85 116.04L309.16 121.36L309.46 126.78L309.76 132.28L310.06 137.87L310.35 143.53L310.65 149.7L310.94 155.94L311.23 162.28L311.53 168.72L311.85 175.26L312.22 182.63L312.61 190.3L313.01 198L313.41 205.42L313.8 212.3L314.1 217.18L314.4 221.73L314.7 226.11L315 230.48L315.3 235L315.61 240.02L315.93 245.21L316.24 250.39L316.55 255.38L316.85 260L317.07 263.32L317.26 266.48L317.47 269.49L317.7 272.39L318 275.2L318.29 277.54L318.61 279.83L318.96 282.02L319.35 284.1L319.8 286L320.16 287.47L320.55 289.01L320.97 290.39L321.41 291.4L321.9 291.8L322.53 291.26L323.22 289.84L323.96 287.91L324.72 285.84L325.5 284L326.35 282.31L327.22 280.63L328.12 278.92L329.05 277.13L330 275.2L331.29 272.41L332.64 269.35L334.03 266.17L335.42 263.01L336.8 260L337.97 257.44L339.08 254.97L340.22 252.54L341.49 250.07L343 247.5L345.35 243.97L348.06 240.26L351 236.5L354.06 232.8L357.1 229.3L360.07 226.06L363.15 222.86L366.27 219.8L369.35 216.95L372.3 214.4L374.49 212.58L376.61 210.86L378.7 209.32L380.78 208.01L382.9 207L384.7 206.47L386.5 206.21L388.3 206.1L390.13 206L392 205.8L394.06 205.4L396.13 204.92L398.24 204.44L400.43 204.07L402.7 203.9L405.57 204.07L408.59 204.54L411.69 205.16L414.82 205.77L417.9 206.2L420.88 206.44L423.82 206.61L426.79 206.72L429.83 206.78L433 206.8L437.1 206.84L441.54 206.87L446.01 206.81L450.16 206.57L453.67 206.08L455.48 205.6L457.08 205.01L458.53 204.36L459.91 203.68L461.27 203.04L462.39 202.45L463.45 201.77L464.48 201.13L465.51 200.65L466.58 200.46L467.78 200.64L469.02 201.13L470.27 201.82L471.49 202.59L472.66 203.35L473.74 204.12L474.73 204.96L475.72 205.85L476.78 206.74L477.98 207.6L479.88 208.64L482.06 209.62L484.35 210.61L486.59 211.68L488.61 212.92L490.3 214.23L491.88 215.63L493.36 217.14L494.79 218.76L496.21 220.51L497.84 222.9L499.42 225.6L500.94 228.4L502.4 231.08L503.8 233.43L504.76 234.91L505.66 236.3L506.55 237.59L507.44 238.76L508.36 239.81L509.1 240.59L509.86 241.35L510.62 242.02L511.39 242.49L512.16 242.69L512.92 242.58L513.71 242.23L514.49 241.68L515.25 241.01L515.95 240.26L516.86 239.03L517.68 237.54L518.44 235.83L519.17 233.94L519.9 231.91L521.04 228.33L522.14 224.21L523.19 219.75L524.17 215.16L525.07 210.64L525.89 205.94L526.59 201.18L527.22 196.34L527.86 191.4L528.56 186.33L529.43 180.4L530.33 174.21L531.25 167.95L532.18 161.8L533.12 155.95L533.91 151.03L534.7 146.14L535.5 141.43L536.33 137.05L537.22 133.17L537.82 130.81L538.41 128.6L539.04 126.57L539.74 124.79L540.56 123.29L541.2 122.41L541.89 121.58L542.61 120.9L543.34 120.43L544.06 120.26L544.76 120.43L545.48 120.9L546.19 121.59L546.88 122.42L547.55 123.29L548.52 124.79L549.45 126.57L550.33 128.58L551.17 130.8L551.96 133.17L552.97 137.04L553.85 141.41L554.63 146.12L555.4 151.02L556.21 155.95L557.19 161.75L558.18 167.79L559.17 173.97L560.14 180.18L561.07 186.33L561.96 192.48L562.81 198.7L563.64 204.88L564.47 210.92L565.32 216.72L566.08 221.56L566.84 226.29L567.6 230.88L568.37 235.3L569.12 239.5L569.72 242.81L570.29 246.01L570.88 249.08L571.49 251.98L572.16 254.69L572.69 256.72L573.22 258.69L573.79 260.53L574.43 262.16L575.2 263.5L575.78 264.27L576.41 264.96L577.08 265.53L577.79 265.92L578.54 266.09L579.58 265.82L580.71 265.09L581.89 264.12L583.1 263.11L584.31 262.29L585.51 261.58L586.74 260.82L587.98 260.14L589.21 259.68L590.39 259.55L591.5 259.83L592.59 260.41L593.66 261.2L594.7 262.11L595.7 263.05L596.79 264.22L597.77 265.55L598.75 266.99L599.8 268.45L601.02 269.88L602.91 271.77L605.07 273.76L607.35 275.73L609.6 277.53L611.65 279L612.93 279.81L614.15 280.5L615.33 281.08L616.51 281.59L617.73 282.04L618.93 282.42L620.14 282.76L621.36 283.02L622.59 283.19L623.81 283.25L625.03 283.2L626.26 283.05L627.48 282.8L628.69 282.46L629.88 282.04L631.13 281.45L632.36 280.73L633.56 279.93L634.76 279.08L635.96 278.24L637.19 277.33L638.43 276.35L639.65 275.37L640.85 274.45L642.04 273.68L642.97 273.13L643.88 272.61L644.78 272.17L645.68 271.85L646.59 271.71L647.51 271.76L648.44 271.97L649.36 272.3L650.27 272.73L651.15 273.22L652.1 273.86L652.99 274.61L653.88 275.47L654.77 276.42L655.71 277.48L657.13 279.33L658.6 281.54L660.11 283.88L661.68 286.15L663.3 288.11L664.71 289.56L666.13 290.9L667.6 292.12L669.18 293.22L670.9 294.19L673.07 295.04L675.43 295.65L677.92 296.14L680.48 296.62L683.05 297.23L686.01 298.11L689.08 299.11L692.19 300.12L695.27 301.05L698.24 301.78L700.76 302.17L703.25 302.37L705.68 302.53L708.07 302.79L710.39 303.3L712.54 304.13L714.54 305.18L716.53 306.34L718.65 307.52L721.03 308.62L724.85 309.99L729.12 311.29L733.66 312.58L738.28 313.89L742.79 315.27L747.39 316.79L752.1 318.4L756.78 320.02L761.31 321.63L765.57 323.17L768.76 324.35L771.73 325.48L774.61 326.6L777.57 327.74L780.76 328.94L785.02 330.51L789.53 332.17L794.2 333.86L798.91 335.54L803.55 337.14L808.17 338.69L812.87 340.23L817.54 341.72L822.06 343.13L826.33 344.43L829.57 345.35L832.64 346.16L835.61 346.94L838.55 347.75L841.53 348.69L844.58 349.82L847.61 351.08L850.63 352.39L853.66 353.64L856.72 354.76L859.74 355.66L862.79 356.4L865.85 357.11L868.89 357.9L871.91 358.87L874.98 360.11L878.02 361.52L881.04 363.02L884.07 364.54L887.1 366L890.13 367.42L893.17 368.84L896.2 370.24L899.24 371.63L902.29 372.99L905.34 374.33L908.43 375.65L911.51 376.94L914.54 378.19L917.48 379.37L920.05 380.3L922.61 381.11L925.1 381.92L927.46 382.82L929.63 383.93L931.3 385.19L932.76 386.66L934.15 388.18L935.59 389.6L937.23 390.77L939.16 391.57L941.23 392.08L943.39 392.49L945.62 393L947.86 393.8L950.78 395.38L953.79 397.35L956.86 399.53L959.96 401.71L963.05 403.68L966.06 405.33L969.08 406.85L972.12 408.33L975.17 409.88L978.24 411.58L981.62 413.66L985.03 415.9L988.45 418.23L991.85 420.55L995.19 422.79L998.28 424.81L1001.32 426.8L1004.34 428.76L1007.35 430.71L1010.38 432.66L1013.43 434.55L1016.49 436.37L1019.55 438.21L1022.59 440.14L1025.57 442.23L1028.68 444.65L1031.74 447.22L1034.76 449.9L1037.77 452.66L1040.76 455.45L1043.83 458.39L1046.87 461.44L1049.89 464.53L1052.91 467.61L1055.95 470.64L1059 473.5L1062.08 476.27L1065.15 479.06L1068.18 481.95L1071.14 485.07L1074.29 488.77L1077.36 492.69L1080.37 496.77L1083.36 500.94L1086.33 505.12L1089.41 509.5L1092.46 513.98L1095.49 518.51L1098.51 523.06L1101.53 527.6L1104.58 532.16L1107.65 536.74L1110.7 541.33L1113.68 545.88L1116.53 550.38L1119.08 554.48L1121.56 558.52L1123.97 562.53L1126.28 566.56L1128.48 570.63L1130.54 574.64L1132.51 578.67L1134.38 582.72L1136.15 586.79L1137.8 590.89L1139.26 594.9L1140.58 598.95L1141.81 603.01L1142.99 607.07L1144.18 611.14L1145.33 615.18L1146.44 619.24L1147.52 623.29L1148.61 627.34L1149.75 631.39L1151.01 635.59L1152.37 639.91L1153.71 644.17L1154.9 648.15L1155.82 651.65L1156.21 653.45L1156.47 654.99L1156.68 656.45L1156.9 658.05L1157.22 660L1158.08 664.86L1159.17 670.78L1160.36 677.31L1161.54 683.99L1162.58 690.38L1163.49 696.45L1164.32 702.52L1165.12 708.6L1165.88 714.68L1166.63 720.76L1167.35 726.83L1168.02 732.91L1168.68 738.99L1169.36 745.07L1170.08 751.14L1170.85 757.22L1171.65 763.29L1172.48 769.37L1173.31 775.44L1174.13 781.52L1174.96 787.61L1175.82 793.71L1176.67 799.8L1177.47 805.87L1178.18 811.9L1178.75 817.56L1179.24 823.06L1179.68 828.59L1180.13 834.38L1180.63 840.63L1181.41 849.86L1182.27 859.9L1183.15 870.39L1183.97 880.97L1184.68 891.27L1185.24 900.87L1185.71 910.23L1186.12 919.66L1186.51 929.48L1186.91 940L1187.46 954.91L1188 970.98L1188.53 987.7L1189.01 1004.55L1189.44 1021.01L1189.79 1037.04L1190.07 1053.18L1190.31 1069.2L1190.57 1084.88L1190.86 1100L1191.16 1112.86L1191.47 1125.47L1191.8 1137.72L1192.13 1149.52L1192.48 1160.76L1192.82 1170.68L1193.22 1181.44L1193.6 1191.29L1193.89 1198.48L1194 1201.27L1194.8 1219.3L1202.8 1226.28L1210.8 1231.5L1218.8 1236.79L1226.8 1242.16L1234.8 1247.59L1242.8 1253.08L1250.8 1258.62L1258.8 1264.22L1266.8 1269.88L1274.8 1275.58L1282.8 1281.32L1290.8 1287.1L1298.8 1292.93L1306.8 1298.79L1314.8 1304.68L1322.8 1310.6L1330.8 1316.56L1338.8 1322.54L1346.8 1328.54L1354.8 1334.57L1362.8 1340.62L1370.8 1346.69L1378.8 1352.78L1386.8 1358.89L1394.8 1365.01L1402.8 1371.15L1410.8 1377.3L1418.8 1383.47L1426.8 1389.65L1434.8 1395.84L1442.8 1402.05L1450.8 1408.27L1458.79 1414.5" stroke="#77AC30"/>
</g>
<g id="main-ticklabels" fill="#262626">
<text transform="translate(198 1472) scale(0.97 1.07)" text-anchor="middle" font-size="40.5">0</text>
<text transform="translate(392.06 1472) scale(0.97 1.07)" text-anchor="middle" font-size="40.5">1000</text>
<text transform="translate(586.11 1472) scale(0.97 1.07)" text-anchor="middle" font-size="40.5">2000</text>
<text transform="translate(780.17 1472) scale(0.97 1.07)" text-anchor="middle" font-size="40.5">3000</text>
<text transform="translate(974.22 1472) scale(0.97 1.07)" text-anchor="middle" font-size="40.5">4000</text>
<text transform="translate(1168.28 1472) scale(0.97 1.07)" text-anchor="middle" font-size="40.5">5000</text>
<text transform="translate(1362.33 1472) scale(0.97 1.07)" text-anchor="middle" font-size="40.5">6000</text>
<text transform="translate(1556.39 1472) scale(0.97 1.07)" text-anchor="middle" font-size="40.5">7000</text>
<text transform="translate(1750.44 1472) scale(0.97 1.07)" text-anchor="middle" font-size="40.5">8000</text>
<text transform="translate(1944.5 1472) scale(0.97 1.07)" text-anchor="middle" font-size="40.5">9000</text>
<text transform="translate(146 1435.5) scale(0.97 1.07)" text-anchor="end" font-size="40.5">10</text><text transform="translate(152 1415.5) scale(0.95 1.07)" font-size="31.5">-9</text>
<text transform="translate(146 1216.73) scale(0.97 1.07)" text-anchor="end" font-size="40.5">10</text><text transform="translate(152 1196.73) scale(0.95 1.07)" font-size="31.5">-8</text>
<text transform="translate(146 997.95) scale(0.97 1.07)" text-anchor="end" font-size="40.5">10</text><text transform="translate(152 977.95) scale(0.95 1.07)" font-size="31.5">-7</text>
<text transform="translate(146 779.18) scale(0.97 1.07)" text-anchor="end" font-size="40.5">10</text><text transform="translate(152 759.18) scale(0.95 1.07)" font-size="31.5">-6</text>
<text transform="translate(146 560.4) scale(0.97 1.07)" text-anchor="end" font-size="40.5">10</text><text transform="translate(152 540.4) scale(0.95 1.07)" font-size="31.5">-5</text>
<text transform="translate(146 341.63) scale(0.97 1.07)" text-anchor="end" font-size="40.5">10</text><text transform="translate(152 321.63) scale(0.95 1.07)" font-size="31.5">-4</text>
<text transform="translate(146 122.86) scale(0.97 1.07)" text-anchor="end" font-size="40.5">10</text><text transform="translate(152 102.86) scale(0.95 1.07)" font-size="31.5">-3</text>
</g>
<text transform="translate(1079.5 1540.8) scale(1 1.07)" text-anchor="middle" font-size="56.2" fill="#262626">Energy (eV)</text>
<text transform="translate(80 730) rotate(-90) scale(1 1.07)" text-anchor="middle" font-size="56.2" fill="#262626">Probablity Distribution</text>
<g id="inset-grid"><rect x="1256.9" y="44" width="675.8" height="575.5" fill="#ffffff"/>
<path d="M1274.29 44V619.5M1309.07 44V619.5M1343.85 44V619.5M1378.63 44V619.5M1448.2 44V619.5M1482.98 44V619.5M1517.76 44V619.5M1552.54 44V619.5M1622.1 44V619.5M1656.88 44V619.5M1691.67 44V619.5M1726.45 44V619.5M1796.01 44V619.5M1830.79 44V619.5M1865.57 44V619.5M1900.35 44V619.5" stroke="#bcbcbc" stroke-width="3" stroke-dasharray="4.2 11.89" stroke-dashoffset="-8.84" fill="none"/>
<path d="M1256.9 557.14H1932.7M1256.9 520.66H1932.7M1256.9 494.78H1932.7M1256.9 474.71H1932.7M1256.9 458.3H1932.7M1256.9 444.44H1932.7M1256.9 432.42H1932.7M1256.9 421.83H1932.7M1256.9 349.99H1932.7M1256.9 313.51H1932.7M1256.9 287.63H1932.7M1256.9 267.55H1932.7M1256.9 251.15H1932.7M1256.9 237.28H1932.7M1256.9 225.27H1932.7M1256.9 214.67H1932.7M1256.9 142.84H1932.7M1256.9 106.36H1932.7M1256.9 80.48H1932.7M1256.9 60.4H1932.7" stroke="#bcbcbc" stroke-width="3" stroke-dasharray="4.2 11.89" stroke-dashoffset="-12.07" fill="none"/>
<path d="M1413.42 44V619.5M1587.32 44V619.5M1761.23 44V619.5" stroke="#262626" stroke-opacity="0.15" stroke-width="2.7" fill="none"/>
<path d="M1256.9 412.35H1932.7M1256.9 205.2H1932.7" stroke="#262626" stroke-opacity="0.15" stroke-width="2.7" fill="none"/></g>
<g id="inset-box"><path d="M1413.42 619.5v-7.4M1413.42 44v7.4M1587.32 619.5v-7.4M1587.32 44v7.4M1761.23 619.5v-7.4M1761.23 44v7.4M1256.9 412.35h7.4M1932.7 412.35h-7.4M1256.9 205.2h7.4M1932.7 205.2h-7.4M1256.9 557.14h4.14M1932.7 557.14h-4.14M1256.9 520.66h4.14M1932.7 520.66h-4.14M1256.9 494.78h4.14M1932.7 494.78h-4.14M1256.9 474.71h4.14M1932.7 474.71h-4.14M1256.9 458.3h4.14M1932.7 458.3h-4.14M1256.9 444.44h4.14M1932.7 444.44h-4.14M1256.9 432.42h4.14M1932.7 432.42h-4.14M1256.9 421.83h4.14M1932.7 421.83h-4.14M1256.9 349.99h4.14M1932.7 349.99h-4.14M1256.9 313.51h4.14M1932.7 313.51h-4.14M1256.9 287.63h4.14M1932.7 287.63h-4.14M1256.9 267.55h4.14M1932.7 267.55h-4.14M1256.9 251.15h4.14M1932.7 251.15h-4.14M1256.9 237.28h4.14M1932.7 237.28h-4.14M1256.9 225.27h4.14M1932.7 225.27h-4.14M1256.9 214.67h4.14M1932.7 214.67h-4.14M1256.9 142.84h4.14M1932.7 142.84h-4.14M1256.9 106.36h4.14M1932.7 106.36h-4.14M1256.9 80.48h4.14M1932.7 80.48h-4.14M1256.9 60.4h4.14M1932.7 60.4h-4.14" stroke="#262626" stroke-width="2.2" fill="none"/>
<rect x="1256.9" y="44" width="675.8" height="575.5" fill="none" stroke="#262626" stroke-width="2.2"/></g>
<g id="inset-curves" fill="none" stroke-width="8.2" stroke-linejoin="round" stroke-linecap="butt">
<path d="M1256.9 129.41L1261.31 143.22L1261.84 149.86L1262.74 160.74L1263.42 168.52L1264.17 176.08L1264.95 183.64L1266.06 190.09L1267.12 193.09L1268.21 194.54L1269.3 190.75L1270.18 184.41L1270.95 176.96L1271.88 172.29L1272.79 173.45L1273.67 176.08L1274.47 186.13L1274.75 199.09L1275.4 214.02L1276.18 229.76L1277.37 247.59L1278.69 264.89L1279.79 280.27L1280.84 289.04L1281.82 278.25L1282.72 260.16L1283.47 244.74L1284.52 229.76L1286.11 217.21L1288.19 206.76L1289.58 202.52L1291.24 199.56L1292.66 198.24L1294.02 197.95L1295.29 207.25L1295.45 222.1L1296.19 237.48L1296.88 252.77L1297.44 263.39L1297.96 275.88L1299.11 330.68L1300.2 397.46L1301.25 473.78L1302.26 519.6L1303.2 473.78L1304.23 397.46L1305.73 331.63L1307.1 275.88L1307.46 259.43L1307.82 245.1L1308.42 225.76L1309.25 206.76L1310.2 191.82L1311.4 179.96L1312.11 176.06L1312.84 174.18L1314.03 180.5L1315.08 191.42L1315.85 202.71L1316.51 214.43L1317.42 226.06L1318.3 237.43L1318.79 247.62L1319.38 256.66L1320.08 262.38L1320.9 265.46L1322.4 257.65L1323.77 245.1L1324.3 237.05L1324.84 229.76L1325.69 223.86L1326.64 220.58L1328.21 229.83L1329.59 245.1L1330.36 255.74L1331.03 268.21L1333.16 309.92L1335.6 359.58L1338.19 420.46L1340.53 457.3L1342.02 420.18L1343.22 359.58L1344.45 315.32L1345.55 275.88L1346.01 255.73L1346.62 237.43L1347.74 216.95L1349.22 199.09L1350.26 190.71L1351.37 186.4L1352.95 195.92L1354.6 210.64L1355.95 217.69L1357.2 224.46L1358.1 235.32L1358.99 242.07L1360.59 231.32L1362.21 220.58L1363.48 229.83L1364.46 245.1L1365 256.51L1365.53 268.21L1366.59 283.08L1367.86 298.03L1369.13 313.35L1370.37 322.27L1371.43 311.27L1372.34 293.3L1373.16 280.98L1373.86 268.21L1374.36 248.8L1374.94 229.76L1375.51 217.3L1376.82 208.27L1377.87 206.33L1378.97 205.62L1381 211.75L1382.56 222.1L1383.55 233.14L1384.08 245.1L1384.44 259.44L1384.8 275.88L1386.38 317.31L1388.02 344.91L1388.75 321.48L1389.19 283.83L1389.34 259.22L1389.82 237.43L1390.65 225.01L1392.06 214.43L1393.95 205.85L1395.91 201.17L1397.76 212.46L1399.23 231.75L1401.03 255.78L1402.72 270.67L1403.86 260.99L1405.05 245.96L1406.24 236.59L1407.47 231.37L1408.77 238.3L1409.98 250.69L1411.4 265.46L1412.67 283.83L1414.56 336.14L1416.25 397.46L1418.26 473.52L1420.2 519.6L1421.88 471.98L1423.42 397.46L1424.43 355.81L1425.66 321.71L1426.71 305.83L1427.81 297.66L1429 309.54L1430.14 331.18L1431.7 370.28L1433.19 395.85L1434.58 371.16L1435.97 331.18L1437.13 303.1L1438.66 279.1L1440.02 267.14L1441.53 260.92L1443.25 269.15L1444.93 283.83L1446.76 302.2L1448.52 321.71L1450.47 344.82L1452.37 358.63L1454.05 342.88L1455.68 316.97L1457.29 297.04L1459.27 279.1L1461.3 267.27L1463.3 260.92L1465.15 275.38L1466.44 302.77L1468.19 356.42L1469.58 416.39L1471.27 481.6L1472.26 520.27M1484.45 520.27L1485.15 481.47L1486.33 416.39L1487.16 357.59L1488.4 307.5L1489.03 290.78L1490.64 280.04L1491.87 278.14L1493.23 277.39L1494.68 278.08L1496.01 280.04L1497.85 296.66L1498.25 321.71L1499.08 366.38L1499.6 416.39L1500.44 481.01L1500.94 520.27M1503.63 520.27L1504.45 480.67L1505.87 416.39L1506.86 370.86L1508.11 331.18L1509.29 308.91L1510.53 297.09L1511.62 308.71L1512.59 331.18L1513.84 380.37L1514.83 435.33L1515.97 488.96L1516.62 520.27M1566.36 520.27L1567.06 481.01L1568.15 416.39L1568.84 366.97L1569.5 321.71L1569.33 291.82L1570.57 270.58L1571.97 266.92L1573.53 265.37L1575.09 266.92L1576.49 270.58L1577.74 291.82L1577.56 321.71L1578.18 366.97L1578.73 416.39L1579.41 481.01L1579.8 520.27M1733.95 520.27L1734.77 480.67L1736.19 416.39L1737.24 370.82L1738.43 331.18L1739.33 309.21L1740.31 297.56L1741.37 309.01L1742.46 331.18L1744.31 380.33L1746.04 435.33L1747.76 488.96L1748.73 520.27" stroke="#0072BD"/>
<path d="M1258.22 44L1258.64 46.24L1259.73 50.43L1260.83 52.87L1262.28 54.65L1263.99 55.2L1265.91 55.18L1268.07 54.42L1270.26 53.88L1272.67 54.83L1274.98 56.72L1277.59 60.69L1280.07 65.01L1282.19 67.79L1284.43 69.99L1286.56 71.2L1288.78 71.91L1291.03 71.95L1293.14 72.07L1294.67 73.32L1296.05 74.21L1297.5 73.08L1298.95 71.14L1300.75 68.2L1302.58 66.31L1304.43 68.03L1306.21 71.14L1308.08 74.82L1309.84 78.82L1311.71 83L1313.47 87.26L1315.01 91.37L1316.38 95.7L1317.7 102.99L1318.92 107.59L1320.16 103.61L1321.46 97.23L1322.62 93.03L1324 89.56L1325.2 87.85L1326.55 87.03L1328.34 88.17L1330.18 90.33L1332.08 92.87L1333.81 95.7L1335.32 98.75L1336.71 101.84L1337.96 105.17L1339.26 107.21L1340.48 106.08L1341.8 104.14L1343.22 102.29L1344.7 101.22L1346.4 102.49L1347.97 104.91L1349.29 108.55L1350.51 112.58L1352.17 116.74L1354.14 120.25L1355.93 122.01L1357.77 122.71L1359.6 121.19L1361.41 118.72L1363.58 115.53L1365.76 113.5L1367.67 114.7L1369.39 117.18L1371.02 121.57L1372.3 126.39L1373.22 130.28L1374.48 133.3L1376.2 134.02L1378.11 134.6L1380.43 137.07L1382.47 139.44L1383.21 139.98L1383.99 140.25L1385.71 139.87L1387.62 139.48L1389.46 140.4L1391.25 141.02L1393.53 138.34L1395.61 136.03L1397.18 137.78L1398.52 141.02L1400 148.05L1401.42 152.91L1402.63 150.98L1403.96 147.92L1405.23 145.89L1406.5 144.85L1408.03 147.4L1409.41 151.76L1410.84 157.2L1412.31 162.5L1413.7 166.19L1415.22 168.26L1416.59 166.76L1418.12 164.42L1419.9 162.85L1421.76 162.12L1423.63 163.33L1425.39 165.57L1427.25 169.16L1429.02 173.24L1431.32 178.57L1433.38 181.69L1434.46 177.56L1435.19 170.94L1435.93 164.76L1437.01 160.97L1438.77 163.1L1440.64 167.11L1442.13 171.72L1443.54 176.31L1444.98 180.03L1446.45 182.07L1447.86 179.12L1449.35 174.78L1450.8 172.45L1452.26 171.33L1453.84 174.01L1455.16 178.62L1456.29 184.09L1457.34 190.13L1459.11 199.58L1460.97 205.47L1462.19 201.78L1463.51 196.26L1464.75 193.49L1466.06 192.04L1467.58 194.01L1468.96 197.8L1470.19 204.95L1471.14 213.15L1472.6 223.43L1474.04 229.64L1475.17 223.38L1476.22 213.15L1477.11 205.25L1478.4 198.57L1479.73 195.5L1481.31 193.96L1483.45 196.27L1485.66 200.1L1487.61 202.63L1489.29 205.47L1490.61 211L1491.47 216.98L1492.16 222.78L1492.93 226.19L1494.28 221.94L1495.83 215.45L1496.83 212.49L1498.01 210.08L1499.43 208.23L1500.91 207.39L1502.49 209.48L1503.82 213.15L1505.06 218.74L1506 224.66L1506.64 229.96L1507.45 233.1L1508.39 231.87L1509.46 229.57L1510.7 226.27L1512.36 223.66L1514.88 223.33L1517.44 224.35L1519.59 228.13L1521.07 233.4L1522.35 240.36L1523.25 247.98L1524.19 257.06L1525.07 265.63L1525.77 271.57L1526.52 274.84L1527.36 269.15L1528.7 261.03L1530.17 258.42L1531.97 256.42L1534.18 254.96L1536.33 253.35L1537.85 250.03L1539.23 246.45L1541.03 243.27L1542.86 241.54L1544.33 243.54L1545.77 246.45L1547.03 248.02L1548.31 248.75L1549.89 246.54L1551.58 243.38L1553.29 241.6L1555.21 240.46L1557.48 240.28L1559.56 241.08L1560.94 243.94L1561.74 247.98L1562.59 254.53L1563.2 261.79L1563.97 269.52L1564.65 277.14L1564.96 284.89L1565.37 289.42L1566.3 284.7L1567.55 277.14L1568.84 272.08L1570.46 267.93L1571.89 265.87L1573.36 265.02L1575.25 269.17L1576.99 275.61L1578.88 279.96L1580.63 284.81L1582.27 295.42L1583.53 307.83L1585.34 327.1L1586.97 339.13L1587.9 330.5L1588.77 316.97L1589.47 308.07L1590.56 302.96L1592.08 305.57L1593.69 310.34L1595.1 317.28L1596.38 321.71L1597.89 316.48L1599.52 308.45L1600.91 303.68L1602.39 301.06L1604.3 305.11L1606.24 312.24L1608.48 322.64L1610.72 329.28L1612.67 324.4L1614.75 316.97L1616.65 312.78L1618.43 310.63L1619.99 316.37L1621.03 326.44L1622.18 340.26L1623.09 354.85L1623.89 370.06L1624.7 378.99L1625.74 368.41L1626.85 350.11L1628.02 330.93L1629.54 312.24L1631.04 298.88L1633.57 288.57L1635.98 285.05L1638.68 283.45L1641.43 284.63L1643.88 287.62L1645.77 296.08L1646.57 307.5L1647.83 327.77L1648.81 350.11L1649.81 377.25L1650.87 393.57L1652.03 380.8L1653.29 359.58L1654.45 341.78L1655.98 326.44L1657.27 319.66L1658.67 316.21L1660.3 321.4L1661.8 331.18L1663.52 349.41L1664.94 369.05L1666.16 386.31L1667.45 396.23L1668.78 387.76L1670.32 373.79L1672.27 360.69L1674.17 352.95L1675.77 365.84L1677.04 387.99L1678.49 415.8L1679.91 433.06L1681.31 415.86L1682.86 387.99L1684.68 364.9L1686.45 351.44L1687.65 363.33L1688.69 383.25L1689.64 403.92L1690.66 416.39L1692.09 397.82L1694.07 369.05L1696.47 351.49L1698.82 341.78L1700.57 361.96L1701.68 397.46L1703.04 439.41L1704.37 482.68L1705.86 527.64L1707.42 553.98L1708.8 530.92L1710.2 492.14L1711.64 457.31L1713.33 425.86L1714.77 408.24L1716.29 398.88L1718.01 412.25L1719.61 435.33L1721.03 459.08L1722.29 482.68L1723.38 504.62L1724.45 517.24L1725.6 501.29L1726.78 473.21L1728.25 439.4L1729.91 406.93L1731.3 386.37L1732.78 375.21L1734.48 389.87L1736.19 416.39L1738.47 453.33L1740.67 492.14L1742.44 524.3L1744.25 553.69L1745.95 577.37L1747.57 590.62L1748.95 572.06L1750.08 539.49L1751.17 500.89L1752.32 463.74L1753.38 439.49L1754.65 426.24L1756.09 438.54L1757.69 459L1759.46 479.26L1761.19 491.39L1762.37 482.37L1763.52 468.47L1764.49 460.3L1765.49 455.78L1767.29 470.09L1768.9 495.27L1770.19 524.32L1771.14 555.21L1772.03 587.62L1772.84 619.5L1772.84 619.5M1776.87 619.5L1776.87 619.5L1777.33 557.87L1778.57 495.27L1780.99 463.09L1783.59 435.33L1784.89 414.66L1786.37 397.46L1787.79 388.49L1789.33 383.82L1790.96 390.38L1792.64 402.19L1795.31 417.77L1797.84 435.33L1799.81 459.38L1801.61 482.68L1803.36 499.14L1805.19 508.24L1806.45 503.12L1807.7 494.99L1808.77 489.18L1809.76 485.9L1811.05 495.61L1812 513.26L1812.78 539.11L1813.26 566.95L1813.74 598.14L1814.24 616.66L1814.88 598.33L1815.59 566.95L1816.4 536.56L1817.29 506.35L1818.09 481.59L1819.08 459L1820.1 440.34L1821.32 429.84L1822.86 441.55L1824.46 459L1825.05 466.75L1826.25 471.31L1827.71 470.8L1829.39 469.42L1831.52 467.25L1833.51 466.11L1835.73 474.36L1837 487.41L1838.19 499.39L1839.24 511.08L1840.36 522.2L1841.49 528.6L1842.58 519.92L1843.73 506.35L1844.91 497.49L1846.06 492.52L1846.99 499.56L1847.76 511.08L1848.39 521.49L1849.1 527.65L1850.28 519.4L1851.79 506.35L1853.45 497.14L1855.11 491.96L1857.05 506.37L1858.51 530.97L1859.8 555.06L1860.75 579.26L1861.42 599.27L1861.92 619.5L1861.92 619.5M1878.94 619.5L1878.94 619.5L1880.92 548.96L1883.43 492.52L1885.85 548.96L1888 619.5L1888 619.5M1913 619.5L1913 619.5L1914.97 548.96L1917.48 492.52L1919.9 548.96L1922.05 619.5L1922.05 619.5" stroke="#D95319"/>
<path d="M1256.9 141.51L1256.92 142.02L1257.31 150.95L1257.8 160.24L1258.4 170.21L1259.21 184.32L1261.49 200.2L1268.65 205.06L1275.82 209.99L1282.99 214.99L1290.16 220.06L1297.33 225.19L1304.5 230.37L1311.67 235.62L1318.84 240.91L1326.01 246.25L1333.18 251.64L1340.35 257.07L1347.52 262.54L1354.69 268.05L1361.86 273.59L1369.03 279.17L1376.19 284.77L1383.36 290.4L1390.53 296.06L1397.7 301.74L1404.87 307.45L1412.04 313.17L1419.21 318.91L1426.38 324.68L1433.55 330.46L1440.72 336.25L1447.89 342.06L1455.06 347.88L1462.23 353.72L1469.4 359.57L1476.57 365.43L1483.73 371.31L1490.9 377.2L1498.07 383.1L1505.24 389.01L1512.41 394.93L1519.58 400.87L1526.75 406.82L1533.92 412.79L1541.09 418.77L1548.26 424.77L1555.43 430.78L1562.6 436.82L1569.77 442.87L1576.94 448.95L1584.11 455.05L1591.28 461.17L1598.44 467.32L1605.61 473.5L1612.78 479.71L1619.95 485.95L1627.12 492.23L1634.29 498.54L1641.46 504.9L1648.63 511.3L1655.8 517.75L1662.97 524.25L1670.14 530.8L1677.31 537.41L1684.48 544.08L1691.65 550.81L1698.82 557.61L1705.98 564.48L1713.15 571.43L1720.32 578.46L1727.49 585.57L1734.66 592.76L1741.83 600.05L1749 607.44L1756.17 614.94L1760.48 619.5" stroke="#EDB120"/>
<path d="M1258.93 44L1259.57 48.91L1261.04 60.23L1268.21 65.09L1275.38 70.01L1282.55 75.01L1289.71 80.07L1296.88 85.2L1304.05 90.38L1311.22 95.62L1318.39 100.91L1325.56 106.25L1332.73 111.64L1339.9 117.07L1347.07 122.53L1354.24 128.04L1361.41 133.58L1368.58 139.15L1375.75 144.75L1382.92 150.38L1390.09 156.04L1397.25 161.72L1404.42 167.42L1411.59 173.15L1418.76 178.89L1425.93 184.65L1433.1 190.43L1440.27 196.22L1447.44 202.03L1454.61 207.86L1461.78 213.69L1468.95 219.54L1476.12 225.4L1483.29 231.28L1490.46 237.16L1497.63 243.06L1504.79 248.97L1511.96 254.9L1519.13 260.84L1526.3 266.79L1533.47 272.75L1540.64 278.73L1547.81 284.73L1554.98 290.74L1562.15 296.78L1569.32 302.83L1576.49 308.9L1583.66 315L1590.83 321.12L1598 327.27L1605.17 333.45L1612.34 339.65L1619.5 345.89L1626.67 352.17L1633.84 358.48L1641.01 364.84L1648.18 371.24L1655.35 377.68L1662.52 384.18L1669.69 390.73L1676.86 397.33L1684.03 404L1691.2 410.72L1698.37 417.52L1705.54 424.39L1712.71 431.33L1719.88 438.35L1727.04 445.45L1734.21 452.65L1741.38 459.93L1748.55 467.31L1755.72 474.8L1762.89 482.39L1770.06 490.1L1777.23 497.92L1784.4 505.86L1791.57 513.94L1798.74 522.14L1805.91 530.49L1813.08 538.99L1820.25 547.63L1827.42 556.43L1834.58 565.4L1841.75 574.54L1848.92 583.86L1856.09 593.35L1863.26 603.05L1870.43 612.93L1875.1 619.5" stroke="#7E2F8E"/>
<path d="M1256.9 204.94L1257.21 215.37L1257.64 231.32L1258.03 246.92L1258.34 262.09L1258.59 277.37L1258.81 292.54L1259.03 307.39L1259.3 321.71L1259.57 333.88L1259.85 345.82L1260.14 357.43L1260.44 368.6L1260.75 379.24L1261.06 388.63L1261.42 398.82L1261.76 408.15L1262.01 414.95L1262.11 417.59L1262.83 434.67L1270 441.27L1277.17 446.22L1284.34 451.23L1291.51 456.31L1298.68 461.45L1305.85 466.65L1313.02 471.9L1320.18 477.21L1327.35 482.56L1334.52 487.96L1341.69 493.39L1348.86 498.87L1356.03 504.39L1363.2 509.93L1370.37 515.51L1377.54 521.12L1384.71 526.76L1391.88 532.42L1399.05 538.11L1406.22 543.82L1413.39 549.55L1420.56 555.29L1427.72 561.06L1434.89 566.84L1442.06 572.64L1449.23 578.45L1456.4 584.28L1463.57 590.12L1470.74 595.97L1477.91 601.83L1485.08 607.71L1492.25 613.6L1499.41 619.5" stroke="#77AC30"/>
</g>
<g id="inset-ticklabels" fill="#262626">
<text transform="translate(1411.92 676.8) scale(0.97 1.07)" text-anchor="middle" font-size="40.5">6000</text>
<text transform="translate(1585.82 676.8) scale(0.97 1.07)" text-anchor="middle" font-size="40.5">7000</text>
<text transform="translate(1759.73 676.8) scale(0.97 1.07)" text-anchor="middle" font-size="40.5">8000</text>
<text transform="translate(1204 642) scale(0.97 1.07)" text-anchor="end" font-size="40.5">10</text><text transform="translate(1210 622) scale(0.95 1.07)" font-size="31.5">-9</text>
<text transform="translate(1204 434.85) scale(0.97 1.07)" text-anchor="end" font-size="40.5">10</text><text transform="translate(1210 414.85) scale(0.95 1.07)" font-size="31.5">-8</text>
<text transform="translate(1204 227.7) scale(0.97 1.07)" text-anchor="end" font-size="40.5">10</text><text transform="translate(1210 207.7) scale(0.95 1.07)" font-size="31.5">-7</text>
</g>
<g id="legend">
<rect x="230.8" y="1016.2" width="740.7" height="365.5" fill="#ffffff" stroke="#262626" stroke-width="1.7"/>
<path d="M247 1058H368" stroke="#0072BD" stroke-width="8.2"/>
<text transform="translate(381 1080.7) scale(1.13 1)" style="font-family:'Liberation Serif', 'DejaVu Serif', serif;font-style:italic" font-size="58" fill="#000">μ</text>
<text transform="translate(431.5 1079) scale(0.95 0.66)" font-size="56.8" fill="#000">=</text>
<text transform="translate(481.5 1080) scale(0.99 1.07)" font-size="56.8" fill="#000">14 kcps, Observed</text>
<path d="M247 1128.5H368" stroke="#D95319" stroke-width="8.2"/>
<text transform="translate(381 1151.2) scale(1.13 1)" style="font-family:'Liberation Serif', 'DejaVu Serif', serif;font-style:italic" font-size="58" fill="#000">μ</text>
<text transform="translate(431.5 1149.5) scale(0.95 0.66)" font-size="56.8" fill="#000">=</text>
<text transform="translate(481.5 1150.5) scale(0.99 1.07)" font-size="56.8" fill="#000">62 kcps, Observed</text>
<path d="M247 1199H368" stroke="#EDB120" stroke-width="8.2"/>
<text transform="translate(381 1221.7) scale(1.13 1)" style="font-family:'Liberation Serif', 'DejaVu Serif', serif;font-style:italic" font-size="58" fill="#000">μ</text>
<text transform="translate(431.5 1220) scale(0.95 0.66)" font-size="56.8" fill="#000">=</text>
<text transform="translate(481.5 1221) scale(0.99 1.07)" font-size="56.8" fill="#000">14 kcps, Predicted</text>
<path d="M247 1269.5H368" stroke="#7E2F8E" stroke-width="8.2"/>
<text transform="translate(381 1292.2) scale(1.13 1)" style="font-family:'Liberation Serif', 'DejaVu Serif', serif;font-style:italic" font-size="58" fill="#000">μ</text>
<text transform="translate(431.5 1290.5) scale(0.95 0.66)" font-size="56.8" fill="#000">=</text>
<text transform="translate(481.5 1291.5) scale(0.99 1.07)" font-size="56.8" fill="#000">62 kcps, Predicted</text>
<path d="M247 1340H368" stroke="#77AC30" stroke-width="8.2"/>
<text transform="translate(381 1362.7) scale(1.13 1)" style="font-family:'Liberation Serif', 'DejaVu Serif', serif;font-style:italic" font-size="58" fill="#000">μ</text>
<text transform="translate(431.5 1361) scale(0.95 0.66)" font-size="56.8" fill="#000">=</text>
<text transform="translate(481.5 1362) scale(0.99 1.07)" font-size="56.8" fill="#000">1 kcps, Predicted</text>
</g>
</svg>
</body></html>
